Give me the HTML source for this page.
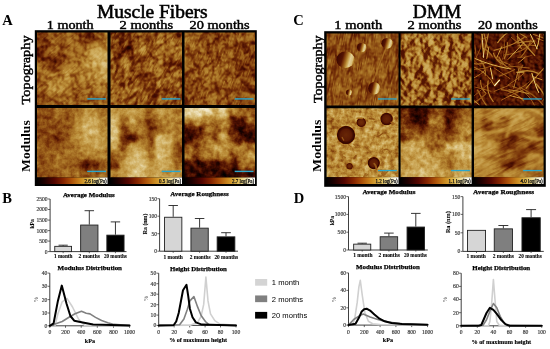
<!DOCTYPE html>
<html><head><meta charset="utf-8"><style>
html,body{margin:0;padding:0;background:#fff;width:550px;height:349px;overflow:hidden}
svg{display:block}
</style></head><body>
<svg xmlns="http://www.w3.org/2000/svg" width="550" height="349" viewBox="0 0 550 349">
<text x="2.3" y="24.6" text-anchor="start" font-family="Liberation Serif, serif" font-weight="bold" font-size="14.5" fill="#000"  >A</text>
<text x="97" y="18.4" text-anchor="start" font-family="Liberation Serif, serif"  font-size="17.8" fill="#000" textLength="110.6" lengthAdjust="spacingAndGlyphs" stroke="#000" stroke-width="0.55">Muscle Fibers</text>
<text x="46.8" y="28.5" text-anchor="start" font-family="Liberation Serif, serif"  font-size="11.6" fill="#000" textLength="46.8" lengthAdjust="spacingAndGlyphs" stroke="#000" stroke-width="0.42">1 month</text>
<text x="119.5" y="28.5" text-anchor="start" font-family="Liberation Serif, serif"  font-size="11.6" fill="#000" textLength="53.7" lengthAdjust="spacingAndGlyphs" stroke="#000" stroke-width="0.42">2 months</text>
<text x="189.6" y="28.5" text-anchor="start" font-family="Liberation Serif, serif"  font-size="11.6" fill="#000" textLength="60" lengthAdjust="spacingAndGlyphs" stroke="#000" stroke-width="0.42">20 months</text>
<text transform="translate(29.9,104.4) rotate(-90)" text-anchor="start" font-family="Liberation Serif, serif"  font-size="13.2" fill="#000" textLength="69" lengthAdjust="spacingAndGlyphs" stroke="#000" stroke-width="0.45">Topography</text>
<text transform="translate(30.2,171.9) rotate(-90)" text-anchor="start" font-family="Liberation Serif, serif" font-weight="bold" font-size="13" fill="#000" textLength="51.7" lengthAdjust="spacingAndGlyphs" >Modulus</text>
<text x="293.3" y="25" text-anchor="start" font-family="Liberation Serif, serif" font-weight="bold" font-size="14.5" fill="#000"  >C</text>
<text x="412.7" y="18.4" text-anchor="start" font-family="Liberation Serif, serif"  font-size="17.8" fill="#000" textLength="48.6" lengthAdjust="spacingAndGlyphs" stroke="#000" stroke-width="0.55">DMM</text>
<text x="334.3" y="28.5" text-anchor="start" font-family="Liberation Serif, serif"  font-size="11.6" fill="#000" textLength="48" lengthAdjust="spacingAndGlyphs" stroke="#000" stroke-width="0.42">1 month</text>
<text x="407.5" y="28.5" text-anchor="start" font-family="Liberation Serif, serif"  font-size="11.6" fill="#000" textLength="53.9" lengthAdjust="spacingAndGlyphs" stroke="#000" stroke-width="0.42">2 months</text>
<text x="478" y="28.5" text-anchor="start" font-family="Liberation Serif, serif"  font-size="11.6" fill="#000" textLength="59.7" lengthAdjust="spacingAndGlyphs" stroke="#000" stroke-width="0.42">20 months</text>
<text transform="translate(321.5,103) rotate(-90)" text-anchor="start" font-family="Liberation Serif, serif"  font-size="13.2" fill="#000" textLength="67.5" lengthAdjust="spacingAndGlyphs" stroke="#000" stroke-width="0.45">Topography</text>
<text transform="translate(320.6,171.9) rotate(-90)" text-anchor="start" font-family="Liberation Serif, serif" font-weight="bold" font-size="13" fill="#000" textLength="52.3" lengthAdjust="spacingAndGlyphs" >Modulus</text>
<text x="2.3" y="202.8" text-anchor="start" font-family="Liberation Serif, serif" font-weight="bold" font-size="14.5" fill="#000"  >B</text>
<text x="293.8" y="202.8" text-anchor="start" font-family="Liberation Serif, serif" font-weight="bold" font-size="14.5" fill="#000"  >D</text>
<rect x="34.8" y="30.2" width="222" height="155.8" fill="#000"/>
<rect x="324.2" y="31.2" width="221.6" height="155.6" fill="#000"/>
<g clip-path="url(#clip_a00)"><g filter="url(#map_a00)"><rect x="36" y="31.5" width="72.5" height="74.5" fill="#808080"/><g filter="url(#blur)"><rect x="17.0" y="12.5" width="32.2" height="32.6" fill="#353535"/><rect x="48.8" y="12.5" width="12.2" height="32.6" fill="#717171"/><rect x="60.5" y="12.5" width="12.2" height="32.6" fill="#7e7e7e"/><rect x="72.2" y="12.5" width="12.2" height="32.6" fill="#6e6e6e"/><rect x="84.0" y="12.5" width="12.2" height="32.6" fill="#191919"/><rect x="95.8" y="12.5" width="32.2" height="32.6" fill="#9a9a9a"/><rect x="17.0" y="44.6" width="32.2" height="12.6" fill="#2a2a2a"/><rect x="48.8" y="44.6" width="12.2" height="12.6" fill="#868686"/><rect x="60.5" y="44.6" width="12.2" height="12.6" fill="#5a5a5a"/><rect x="72.2" y="44.6" width="12.2" height="12.6" fill="#717171"/><rect x="84.0" y="44.6" width="12.2" height="12.6" fill="#acacac"/><rect x="95.8" y="44.6" width="32.2" height="12.6" fill="#c9c9c9"/><rect x="17.0" y="56.7" width="32.2" height="12.6" fill="#717171"/><rect x="48.8" y="56.7" width="12.2" height="12.6" fill="#020202"/><rect x="60.5" y="56.7" width="12.2" height="12.6" fill="#717171"/><rect x="72.2" y="56.7" width="12.2" height="12.6" fill="#9a9a9a"/><rect x="84.0" y="56.7" width="12.2" height="12.6" fill="#dcdcdc"/><rect x="95.8" y="56.7" width="32.2" height="12.6" fill="#efefef"/><rect x="17.0" y="68.8" width="32.2" height="12.6" fill="#868686"/><rect x="48.8" y="68.8" width="12.2" height="12.6" fill="#9a9a9a"/><rect x="60.5" y="68.8" width="12.2" height="12.6" fill="#bcbcbc"/><rect x="72.2" y="68.8" width="12.2" height="12.6" fill="#868686"/><rect x="84.0" y="68.8" width="12.2" height="12.6" fill="#acacac"/><rect x="95.8" y="68.8" width="32.2" height="12.6" fill="#dcdcdc"/><rect x="17.0" y="80.8" width="32.2" height="12.6" fill="#717171"/><rect x="48.8" y="80.8" width="12.2" height="12.6" fill="#c9c9c9"/><rect x="60.5" y="80.8" width="12.2" height="12.6" fill="#9a9a9a"/><rect x="72.2" y="80.8" width="12.2" height="12.6" fill="#717171"/><rect x="84.0" y="80.8" width="12.2" height="12.6" fill="#868686"/><rect x="95.8" y="80.8" width="32.2" height="12.6" fill="#9a9a9a"/><rect x="17.0" y="92.9" width="32.2" height="32.6" fill="#5e5e5e"/><rect x="48.8" y="92.9" width="12.2" height="32.6" fill="#717171"/><rect x="60.5" y="92.9" width="12.2" height="32.6" fill="#868686"/><rect x="72.2" y="92.9" width="12.2" height="32.6" fill="#5e5e5e"/><rect x="84.0" y="92.9" width="12.2" height="32.6" fill="#717171"/><rect x="95.8" y="92.9" width="32.2" height="32.6" fill="#868686"/></g><g transform="rotate(-40 72.25 68.75)"><rect x="17.25" y="13.75" width="110" height="110" filter="url(#rel_a00)" opacity="0.5"/></g></g></g>
<g clip-path="url(#clip_a01)"><g filter="url(#map_a01)"><rect x="109.5" y="31.5" width="73.5" height="74.5" fill="#808080"/><g filter="url(#blur)"><rect x="90.5" y="12.5" width="32.4" height="32.6" fill="#838383"/><rect x="122.4" y="12.5" width="12.4" height="32.6" fill="#353535"/><rect x="134.3" y="12.5" width="12.4" height="32.6" fill="#a4a4a4"/><rect x="146.2" y="12.5" width="12.4" height="32.6" fill="#989898"/><rect x="158.2" y="12.5" width="12.4" height="32.6" fill="#b6b6b6"/><rect x="170.1" y="12.5" width="32.4" height="32.6" fill="#7c7c7c"/><rect x="90.5" y="44.6" width="32.4" height="12.6" fill="#666666"/><rect x="122.4" y="44.6" width="12.4" height="12.6" fill="#363636"/><rect x="134.3" y="44.6" width="12.4" height="12.6" fill="#a4a4a4"/><rect x="146.2" y="44.6" width="12.4" height="12.6" fill="#838383"/><rect x="158.2" y="44.6" width="12.4" height="12.6" fill="#989898"/><rect x="170.1" y="44.6" width="32.4" height="12.6" fill="#a4a4a4"/><rect x="90.5" y="56.7" width="32.4" height="12.6" fill="#989898"/><rect x="122.4" y="56.7" width="12.4" height="12.6" fill="#b6b6b6"/><rect x="134.3" y="56.7" width="12.4" height="12.6" fill="#666666"/><rect x="146.2" y="56.7" width="12.4" height="12.6" fill="#c3c3c3"/><rect x="158.2" y="56.7" width="12.4" height="12.6" fill="#989898"/><rect x="170.1" y="56.7" width="32.4" height="12.6" fill="#838383"/><rect x="90.5" y="68.8" width="32.4" height="12.6" fill="#838383"/><rect x="122.4" y="68.8" width="12.4" height="12.6" fill="#989898"/><rect x="134.3" y="68.8" width="12.4" height="12.6" fill="#666666"/><rect x="146.2" y="68.8" width="12.4" height="12.6" fill="#a4a4a4"/><rect x="158.2" y="68.8" width="12.4" height="12.6" fill="#989898"/><rect x="170.1" y="68.8" width="32.4" height="12.6" fill="#a4a4a4"/><rect x="90.5" y="80.8" width="32.4" height="12.6" fill="#a4a4a4"/><rect x="122.4" y="80.8" width="12.4" height="12.6" fill="#838383"/><rect x="134.3" y="80.8" width="12.4" height="12.6" fill="#a4a4a4"/><rect x="146.2" y="80.8" width="12.4" height="12.6" fill="#838383"/><rect x="158.2" y="80.8" width="12.4" height="12.6" fill="#989898"/><rect x="170.1" y="80.8" width="32.4" height="12.6" fill="#838383"/><rect x="90.5" y="92.9" width="32.4" height="32.6" fill="#989898"/><rect x="122.4" y="92.9" width="12.4" height="32.6" fill="#a4a4a4"/><rect x="134.3" y="92.9" width="12.4" height="32.6" fill="#838383"/><rect x="146.2" y="92.9" width="12.4" height="32.6" fill="#666666"/><rect x="158.2" y="92.9" width="12.4" height="32.6" fill="#989898"/><rect x="170.1" y="92.9" width="32.4" height="32.6" fill="#7c7c7c"/></g><g transform="rotate(-60 146.25 68.75)"><rect x="91.25" y="13.75" width="110" height="110" filter="url(#rel_a01)" opacity="0.6"/></g></g></g>
<g clip-path="url(#clip_a02)"><g filter="url(#map_a02)"><rect x="183.5" y="31.5" width="72.5" height="74.5" fill="#808080"/><g filter="url(#blur)"><rect x="164.5" y="12.5" width="32.2" height="32.6" fill="#7d7d7d"/><rect x="196.2" y="12.5" width="12.2" height="32.6" fill="#616161"/><rect x="208.0" y="12.5" width="12.2" height="32.6" fill="#484848"/><rect x="219.8" y="12.5" width="12.2" height="32.6" fill="#616161"/><rect x="231.5" y="12.5" width="12.2" height="32.6" fill="#6c6c6c"/><rect x="243.2" y="12.5" width="32.2" height="32.6" fill="#616161"/><rect x="164.5" y="44.6" width="32.2" height="12.6" fill="#929292"/><rect x="196.2" y="44.6" width="12.2" height="12.6" fill="#6c6c6c"/><rect x="208.0" y="44.6" width="12.2" height="12.6" fill="#616161"/><rect x="219.8" y="44.6" width="12.2" height="12.6" fill="#6c6c6c"/><rect x="231.5" y="44.6" width="12.2" height="12.6" fill="#616161"/><rect x="243.2" y="44.6" width="32.2" height="12.6" fill="#484848"/><rect x="164.5" y="56.7" width="32.2" height="12.6" fill="#6c6c6c"/><rect x="196.2" y="56.7" width="12.2" height="12.6" fill="#616161"/><rect x="208.0" y="56.7" width="12.2" height="12.6" fill="#6c6c6c"/><rect x="219.8" y="56.7" width="12.2" height="12.6" fill="#7c7c7c"/><rect x="231.5" y="56.7" width="12.2" height="12.6" fill="#484848"/><rect x="243.2" y="56.7" width="32.2" height="12.6" fill="#353535"/><rect x="164.5" y="68.8" width="32.2" height="12.6" fill="#4f4f4f"/><rect x="196.2" y="68.8" width="12.2" height="12.6" fill="#7c7c7c"/><rect x="208.0" y="68.8" width="12.2" height="12.6" fill="#878787"/><rect x="219.8" y="68.8" width="12.2" height="12.6" fill="#6c6c6c"/><rect x="231.5" y="68.8" width="12.2" height="12.6" fill="#616161"/><rect x="243.2" y="68.8" width="32.2" height="12.6" fill="#484848"/><rect x="164.5" y="80.8" width="32.2" height="12.6" fill="#616161"/><rect x="196.2" y="80.8" width="12.2" height="12.6" fill="#6c6c6c"/><rect x="208.0" y="80.8" width="12.2" height="12.6" fill="#6c6c6c"/><rect x="219.8" y="80.8" width="12.2" height="12.6" fill="#616161"/><rect x="231.5" y="80.8" width="12.2" height="12.6" fill="#616161"/><rect x="243.2" y="80.8" width="32.2" height="12.6" fill="#4f4f4f"/><rect x="164.5" y="92.9" width="32.2" height="32.6" fill="#4f4f4f"/><rect x="196.2" y="92.9" width="12.2" height="32.6" fill="#616161"/><rect x="208.0" y="92.9" width="12.2" height="32.6" fill="#6c6c6c"/><rect x="219.8" y="92.9" width="12.2" height="32.6" fill="#616161"/><rect x="231.5" y="92.9" width="12.2" height="32.6" fill="#4f4f4f"/><rect x="243.2" y="92.9" width="32.2" height="32.6" fill="#484848"/></g><g transform="rotate(-70 219.75 68.75)"><rect x="164.75" y="13.75" width="110" height="110" filter="url(#rel_a02)" opacity="0.55"/></g></g></g>
<g clip-path="url(#clip_a10)"><g filter="url(#map_a10)"><rect x="36" y="107" width="72.5" height="71.5" fill="#808080"/><g filter="url(#blur2)"><rect x="17.0" y="88.0" width="29.3" height="29.2" fill="#5b5b5b"/><rect x="45.8" y="88.0" width="9.3" height="29.2" fill="#646464"/><rect x="54.6" y="88.0" width="9.3" height="29.2" fill="#7c7c7c"/><rect x="63.4" y="88.0" width="9.3" height="29.2" fill="#6e6e6e"/><rect x="72.2" y="88.0" width="9.3" height="29.2" fill="#7c7c7c"/><rect x="81.1" y="88.0" width="9.3" height="29.2" fill="#9e9e9e"/><rect x="89.9" y="88.0" width="9.3" height="29.2" fill="#9e9e9e"/><rect x="98.7" y="88.0" width="29.3" height="29.2" fill="#7c7c7c"/><rect x="17.0" y="116.7" width="29.3" height="9.2" fill="#646464"/><rect x="45.8" y="116.7" width="9.3" height="9.2" fill="#5b5b5b"/><rect x="54.6" y="116.7" width="9.3" height="9.2" fill="#646464"/><rect x="63.4" y="116.7" width="9.3" height="9.2" fill="#646464"/><rect x="72.2" y="116.7" width="9.3" height="9.2" fill="#8b8b8b"/><rect x="81.1" y="116.7" width="9.3" height="9.2" fill="#c4c4c4"/><rect x="89.9" y="116.7" width="9.3" height="9.2" fill="#c4c4c4"/><rect x="98.7" y="116.7" width="29.3" height="9.2" fill="#8b8b8b"/><rect x="17.0" y="125.4" width="29.3" height="9.2" fill="#4d4d4d"/><rect x="45.8" y="125.4" width="9.3" height="9.2" fill="#646464"/><rect x="54.6" y="125.4" width="9.3" height="9.2" fill="#5b5b5b"/><rect x="63.4" y="125.4" width="9.3" height="9.2" fill="#6e6e6e"/><rect x="72.2" y="125.4" width="9.3" height="9.2" fill="#949494"/><rect x="81.1" y="125.4" width="9.3" height="9.2" fill="#cdcdcd"/><rect x="89.9" y="125.4" width="9.3" height="9.2" fill="#c4c4c4"/><rect x="98.7" y="125.4" width="29.3" height="9.2" fill="#9e9e9e"/><rect x="17.0" y="134.1" width="29.3" height="9.2" fill="#646464"/><rect x="45.8" y="134.1" width="9.3" height="9.2" fill="#4d4d4d"/><rect x="54.6" y="134.1" width="9.3" height="9.2" fill="#353535"/><rect x="63.4" y="134.1" width="9.3" height="9.2" fill="#646464"/><rect x="72.2" y="134.1" width="9.3" height="9.2" fill="#949494"/><rect x="81.1" y="134.1" width="9.3" height="9.2" fill="#bababa"/><rect x="89.9" y="134.1" width="9.3" height="9.2" fill="#bababa"/><rect x="98.7" y="134.1" width="29.3" height="9.2" fill="#acacac"/><rect x="17.0" y="142.8" width="29.3" height="9.2" fill="#6e6e6e"/><rect x="45.8" y="142.8" width="9.3" height="9.2" fill="#646464"/><rect x="54.6" y="142.8" width="9.3" height="9.2" fill="#6e6e6e"/><rect x="63.4" y="142.8" width="9.3" height="9.2" fill="#7c7c7c"/><rect x="72.2" y="142.8" width="9.3" height="9.2" fill="#8b8b8b"/><rect x="81.1" y="142.8" width="9.3" height="9.2" fill="#9e9e9e"/><rect x="89.9" y="142.8" width="9.3" height="9.2" fill="#acacac"/><rect x="98.7" y="142.8" width="29.3" height="9.2" fill="#9e9e9e"/><rect x="17.0" y="151.4" width="29.3" height="9.2" fill="#646464"/><rect x="45.8" y="151.4" width="9.3" height="9.2" fill="#6e6e6e"/><rect x="54.6" y="151.4" width="9.3" height="9.2" fill="#7c7c7c"/><rect x="63.4" y="151.4" width="9.3" height="9.2" fill="#7c7c7c"/><rect x="72.2" y="151.4" width="9.3" height="9.2" fill="#7c7c7c"/><rect x="81.1" y="151.4" width="9.3" height="9.2" fill="#8b8b8b"/><rect x="89.9" y="151.4" width="9.3" height="9.2" fill="#949494"/><rect x="98.7" y="151.4" width="29.3" height="9.2" fill="#949494"/><rect x="17.0" y="160.1" width="29.3" height="9.2" fill="#646464"/><rect x="45.8" y="160.1" width="9.3" height="9.2" fill="#6e6e6e"/><rect x="54.6" y="160.1" width="9.3" height="9.2" fill="#7c7c7c"/><rect x="63.4" y="160.1" width="9.3" height="9.2" fill="#6e6e6e"/><rect x="72.2" y="160.1" width="9.3" height="9.2" fill="#5b5b5b"/><rect x="81.1" y="160.1" width="9.3" height="9.2" fill="#1d1d1d"/><rect x="89.9" y="160.1" width="9.3" height="9.2" fill="#2b2b2b"/><rect x="98.7" y="160.1" width="29.3" height="9.2" fill="#646464"/><rect x="17.0" y="168.8" width="29.3" height="29.2" fill="#5b5b5b"/><rect x="45.8" y="168.8" width="9.3" height="29.2" fill="#646464"/><rect x="54.6" y="168.8" width="9.3" height="29.2" fill="#6e6e6e"/><rect x="63.4" y="168.8" width="9.3" height="29.2" fill="#7c7c7c"/><rect x="72.2" y="168.8" width="9.3" height="29.2" fill="#7c7c7c"/><rect x="81.1" y="168.8" width="9.3" height="29.2" fill="#646464"/><rect x="89.9" y="168.8" width="9.3" height="29.2" fill="#6e6e6e"/><rect x="98.7" y="168.8" width="29.3" height="29.2" fill="#7c7c7c"/></g><g transform="rotate(0 72.25 142.75)"><rect x="17.25" y="87.75" width="110" height="110" filter="url(#rel_a10)" opacity="0.25"/></g></g></g>
<g clip-path="url(#clip_a11)"><g filter="url(#map_a11)"><rect x="109.5" y="107" width="73.5" height="71.5" fill="#808080"/><g filter="url(#blur2)"><rect x="90.5" y="88.0" width="29.4" height="29.2" fill="#a9a9a9"/><rect x="119.4" y="88.0" width="9.4" height="29.2" fill="#a0a0a0"/><rect x="128.4" y="88.0" width="9.4" height="29.2" fill="#a9a9a9"/><rect x="137.3" y="88.0" width="9.4" height="29.2" fill="#a0a0a0"/><rect x="146.2" y="88.0" width="9.4" height="29.2" fill="#707070"/><rect x="155.2" y="88.0" width="9.4" height="29.2" fill="#a9a9a9"/><rect x="164.1" y="88.0" width="9.4" height="29.2" fill="#a0a0a0"/><rect x="173.1" y="88.0" width="29.4" height="29.2" fill="#888888"/><rect x="90.5" y="116.7" width="29.4" height="9.2" fill="#d0d0d0"/><rect x="119.4" y="116.7" width="9.4" height="9.2" fill="#676767"/><rect x="128.4" y="116.7" width="9.4" height="9.2" fill="#b8b8b8"/><rect x="137.3" y="116.7" width="9.4" height="9.2" fill="#707070"/><rect x="146.2" y="116.7" width="9.4" height="9.2" fill="#414141"/><rect x="155.2" y="116.7" width="9.4" height="9.2" fill="#888888"/><rect x="164.1" y="116.7" width="9.4" height="9.2" fill="#969696"/><rect x="173.1" y="116.7" width="29.4" height="9.2" fill="#888888"/><rect x="90.5" y="125.4" width="29.4" height="9.2" fill="#d9d9d9"/><rect x="119.4" y="125.4" width="9.4" height="9.2" fill="#4a4a4a"/><rect x="128.4" y="125.4" width="9.4" height="9.2" fill="#888888"/><rect x="137.3" y="125.4" width="9.4" height="9.2" fill="#969696"/><rect x="146.2" y="125.4" width="9.4" height="9.2" fill="#373737"/><rect x="155.2" y="125.4" width="9.4" height="9.2" fill="#707070"/><rect x="164.1" y="125.4" width="9.4" height="9.2" fill="#888888"/><rect x="173.1" y="125.4" width="29.4" height="9.2" fill="#888888"/><rect x="90.5" y="134.1" width="29.4" height="9.2" fill="#d9d9d9"/><rect x="119.4" y="134.1" width="9.4" height="9.2" fill="#414141"/><rect x="128.4" y="134.1" width="9.4" height="9.2" fill="#000000"/><rect x="137.3" y="134.1" width="9.4" height="9.2" fill="#888888"/><rect x="146.2" y="134.1" width="9.4" height="9.2" fill="#595959"/><rect x="155.2" y="134.1" width="9.4" height="9.2" fill="#d9d9d9"/><rect x="164.1" y="134.1" width="9.4" height="9.2" fill="#b8b8b8"/><rect x="173.1" y="134.1" width="29.4" height="9.2" fill="#888888"/><rect x="90.5" y="142.8" width="29.4" height="9.2" fill="#b8b8b8"/><rect x="119.4" y="142.8" width="9.4" height="9.2" fill="#4a4a4a"/><rect x="128.4" y="142.8" width="9.4" height="9.2" fill="#c6c6c6"/><rect x="137.3" y="142.8" width="9.4" height="9.2" fill="#a0a0a0"/><rect x="146.2" y="142.8" width="9.4" height="9.2" fill="#676767"/><rect x="155.2" y="142.8" width="9.4" height="9.2" fill="#d0d0d0"/><rect x="164.1" y="142.8" width="9.4" height="9.2" fill="#c6c6c6"/><rect x="173.1" y="142.8" width="29.4" height="9.2" fill="#4a4a4a"/><rect x="90.5" y="151.4" width="29.4" height="9.2" fill="#707070"/><rect x="119.4" y="151.4" width="9.4" height="9.2" fill="#888888"/><rect x="128.4" y="151.4" width="9.4" height="9.2" fill="#d0d0d0"/><rect x="137.3" y="151.4" width="9.4" height="9.2" fill="#d9d9d9"/><rect x="146.2" y="151.4" width="9.4" height="9.2" fill="#7a7a7a"/><rect x="155.2" y="151.4" width="9.4" height="9.2" fill="#d9d9d9"/><rect x="164.1" y="151.4" width="9.4" height="9.2" fill="#bdbdbd"/><rect x="173.1" y="151.4" width="29.4" height="9.2" fill="#595959"/><rect x="90.5" y="160.1" width="29.4" height="9.2" fill="#414141"/><rect x="119.4" y="160.1" width="9.4" height="9.2" fill="#a9a9a9"/><rect x="128.4" y="160.1" width="9.4" height="9.2" fill="#d0d0d0"/><rect x="137.3" y="160.1" width="9.4" height="9.2" fill="#d9d9d9"/><rect x="146.2" y="160.1" width="9.4" height="9.2" fill="#a0a0a0"/><rect x="155.2" y="160.1" width="9.4" height="9.2" fill="#c6c6c6"/><rect x="164.1" y="160.1" width="9.4" height="9.2" fill="#a9a9a9"/><rect x="173.1" y="160.1" width="29.4" height="9.2" fill="#7a7a7a"/><rect x="90.5" y="168.8" width="29.4" height="29.2" fill="#888888"/><rect x="119.4" y="168.8" width="9.4" height="29.2" fill="#a9a9a9"/><rect x="128.4" y="168.8" width="9.4" height="29.2" fill="#d9d9d9"/><rect x="137.3" y="168.8" width="9.4" height="29.2" fill="#d9d9d9"/><rect x="146.2" y="168.8" width="9.4" height="29.2" fill="#a9a9a9"/><rect x="155.2" y="168.8" width="9.4" height="29.2" fill="#b8b8b8"/><rect x="164.1" y="168.8" width="9.4" height="29.2" fill="#a0a0a0"/><rect x="173.1" y="168.8" width="29.4" height="29.2" fill="#a0a0a0"/></g><g transform="rotate(0 146.25 142.75)"><rect x="91.25" y="87.75" width="110" height="110" filter="url(#rel_a11)" opacity="0.25"/></g></g></g>
<g clip-path="url(#clip_a12)"><g filter="url(#map_a12)"><rect x="183.5" y="107" width="72.5" height="71.5" fill="#808080"/><g filter="url(#blur2)"><rect x="164.5" y="88.0" width="29.3" height="29.2" fill="#f4f4f4"/><rect x="193.3" y="88.0" width="9.3" height="29.2" fill="#fefefe"/><rect x="202.1" y="88.0" width="9.3" height="29.2" fill="#f4f4f4"/><rect x="210.9" y="88.0" width="9.3" height="29.2" fill="#dbdbdb"/><rect x="219.8" y="88.0" width="9.3" height="29.2" fill="#cccccc"/><rect x="228.6" y="88.0" width="9.3" height="29.2" fill="#919191"/><rect x="237.4" y="88.0" width="9.3" height="29.2" fill="#797979"/><rect x="246.2" y="88.0" width="29.3" height="29.2" fill="#606060"/><rect x="164.5" y="116.7" width="29.3" height="9.2" fill="#9b9b9b"/><rect x="193.3" y="116.7" width="9.3" height="9.2" fill="#b9b9b9"/><rect x="202.1" y="116.7" width="9.3" height="9.2" fill="#919191"/><rect x="210.9" y="116.7" width="9.3" height="9.2" fill="#797979"/><rect x="219.8" y="116.7" width="9.3" height="9.2" fill="#afafaf"/><rect x="228.6" y="116.7" width="9.3" height="9.2" fill="#080808"/><rect x="237.4" y="116.7" width="9.3" height="9.2" fill="#161616"/><rect x="246.2" y="116.7" width="29.3" height="9.2" fill="#797979"/><rect x="164.5" y="125.4" width="29.3" height="9.2" fill="#000000"/><rect x="193.3" y="125.4" width="9.3" height="9.2" fill="#161616"/><rect x="202.1" y="125.4" width="9.3" height="9.2" fill="#606060"/><rect x="210.9" y="125.4" width="9.3" height="9.2" fill="#606060"/><rect x="219.8" y="125.4" width="9.3" height="9.2" fill="#9b9b9b"/><rect x="228.6" y="125.4" width="9.3" height="9.2" fill="#252525"/><rect x="237.4" y="125.4" width="9.3" height="9.2" fill="#000000"/><rect x="246.2" y="125.4" width="29.3" height="9.2" fill="#080808"/><rect x="164.5" y="134.1" width="29.3" height="9.2" fill="#000000"/><rect x="193.3" y="134.1" width="9.3" height="9.2" fill="#484848"/><rect x="202.1" y="134.1" width="9.3" height="9.2" fill="#797979"/><rect x="210.9" y="134.1" width="9.3" height="9.2" fill="#606060"/><rect x="219.8" y="134.1" width="9.3" height="9.2" fill="#aaaaaa"/><rect x="228.6" y="134.1" width="9.3" height="9.2" fill="#484848"/><rect x="237.4" y="134.1" width="9.3" height="9.2" fill="#000000"/><rect x="246.2" y="134.1" width="29.3" height="9.2" fill="#000000"/><rect x="164.5" y="142.8" width="29.3" height="9.2" fill="#606060"/><rect x="193.3" y="142.8" width="9.3" height="9.2" fill="#484848"/><rect x="202.1" y="142.8" width="9.3" height="9.2" fill="#919191"/><rect x="210.9" y="142.8" width="9.3" height="9.2" fill="#aaaaaa"/><rect x="219.8" y="142.8" width="9.3" height="9.2" fill="#b9b9b9"/><rect x="228.6" y="142.8" width="9.3" height="9.2" fill="#919191"/><rect x="237.4" y="142.8" width="9.3" height="9.2" fill="#797979"/><rect x="246.2" y="142.8" width="29.3" height="9.2" fill="#919191"/><rect x="164.5" y="151.4" width="29.3" height="9.2" fill="#797979"/><rect x="193.3" y="151.4" width="9.3" height="9.2" fill="#606060"/><rect x="202.1" y="151.4" width="9.3" height="9.2" fill="#9b9b9b"/><rect x="210.9" y="151.4" width="9.3" height="9.2" fill="#797979"/><rect x="219.8" y="151.4" width="9.3" height="9.2" fill="#aaaaaa"/><rect x="228.6" y="151.4" width="9.3" height="9.2" fill="#484848"/><rect x="237.4" y="151.4" width="9.3" height="9.2" fill="#919191"/><rect x="246.2" y="151.4" width="29.3" height="9.2" fill="#9b9b9b"/><rect x="164.5" y="160.1" width="29.3" height="9.2" fill="#161616"/><rect x="193.3" y="160.1" width="9.3" height="9.2" fill="#000000"/><rect x="202.1" y="160.1" width="9.3" height="9.2" fill="#161616"/><rect x="210.9" y="160.1" width="9.3" height="9.2" fill="#000000"/><rect x="219.8" y="160.1" width="9.3" height="9.2" fill="#2f2f2f"/><rect x="228.6" y="160.1" width="9.3" height="9.2" fill="#161616"/><rect x="237.4" y="160.1" width="9.3" height="9.2" fill="#797979"/><rect x="246.2" y="160.1" width="29.3" height="9.2" fill="#878787"/><rect x="164.5" y="168.8" width="29.3" height="29.2" fill="#000000"/><rect x="193.3" y="168.8" width="9.3" height="29.2" fill="#000000"/><rect x="202.1" y="168.8" width="9.3" height="29.2" fill="#000000"/><rect x="210.9" y="168.8" width="9.3" height="29.2" fill="#000000"/><rect x="219.8" y="168.8" width="9.3" height="29.2" fill="#000000"/><rect x="228.6" y="168.8" width="9.3" height="29.2" fill="#000000"/><rect x="237.4" y="168.8" width="9.3" height="29.2" fill="#000000"/><rect x="246.2" y="168.8" width="29.3" height="29.2" fill="#000000"/></g><g transform="rotate(0 219.75 142.75)"><rect x="164.75" y="87.75" width="110" height="110" filter="url(#rel_a12)" opacity="0.3"/></g></g></g>
<g clip-path="url(#clip_c00)"><g filter="url(#map_c00)"><rect x="325.6" y="32.6" width="73.89999999999998" height="74.0" fill="#808080"/><g filter="url(#blur)"><rect x="306.6" y="13.6" width="32.5" height="32.5" fill="#696969"/><rect x="338.6" y="13.6" width="12.5" height="32.5" fill="#747474"/><rect x="350.6" y="13.6" width="12.5" height="32.5" fill="#505050"/><rect x="362.6" y="13.6" width="12.5" height="32.5" fill="#696969"/><rect x="374.5" y="13.6" width="12.5" height="32.5" fill="#747474"/><rect x="386.5" y="13.6" width="32.5" height="32.5" fill="#696969"/><rect x="306.6" y="45.6" width="32.5" height="12.5" fill="#505050"/><rect x="338.6" y="45.6" width="12.5" height="12.5" fill="#747474"/><rect x="350.6" y="45.6" width="12.5" height="12.5" fill="#696969"/><rect x="362.6" y="45.6" width="12.5" height="12.5" fill="#747474"/><rect x="374.5" y="45.6" width="12.5" height="12.5" fill="#696969"/><rect x="386.5" y="45.6" width="32.5" height="12.5" fill="#505050"/><rect x="306.6" y="57.6" width="32.5" height="12.5" fill="#696969"/><rect x="338.6" y="57.6" width="12.5" height="12.5" fill="#747474"/><rect x="350.6" y="57.6" width="12.5" height="12.5" fill="#696969"/><rect x="362.6" y="57.6" width="12.5" height="12.5" fill="#696969"/><rect x="374.5" y="57.6" width="12.5" height="12.5" fill="#747474"/><rect x="386.5" y="57.6" width="32.5" height="12.5" fill="#696969"/><rect x="306.6" y="69.6" width="32.5" height="12.5" fill="#747474"/><rect x="338.6" y="69.6" width="12.5" height="12.5" fill="#696969"/><rect x="350.6" y="69.6" width="12.5" height="12.5" fill="#747474"/><rect x="362.6" y="69.6" width="12.5" height="12.5" fill="#696969"/><rect x="374.5" y="69.6" width="12.5" height="12.5" fill="#747474"/><rect x="386.5" y="69.6" width="32.5" height="12.5" fill="#696969"/><rect x="306.6" y="81.6" width="32.5" height="12.5" fill="#696969"/><rect x="338.6" y="81.6" width="12.5" height="12.5" fill="#747474"/><rect x="350.6" y="81.6" width="12.5" height="12.5" fill="#696969"/><rect x="362.6" y="81.6" width="12.5" height="12.5" fill="#505050"/><rect x="374.5" y="81.6" width="12.5" height="12.5" fill="#696969"/><rect x="386.5" y="81.6" width="32.5" height="12.5" fill="#747474"/><rect x="306.6" y="93.6" width="32.5" height="32.5" fill="#747474"/><rect x="338.6" y="93.6" width="12.5" height="32.5" fill="#696969"/><rect x="350.6" y="93.6" width="12.5" height="32.5" fill="#747474"/><rect x="362.6" y="93.6" width="12.5" height="32.5" fill="#696969"/><rect x="374.5" y="93.6" width="12.5" height="32.5" fill="#696969"/><rect x="386.5" y="93.6" width="32.5" height="32.5" fill="#747474"/></g><g transform="rotate(-80 362.55 69.6)"><rect x="307.55" y="14.599999999999994" width="110" height="110" filter="url(#rel_c00)" opacity="0.55"/></g><path d="M387,46 Q380,62 373,82" fill="none" stroke="#949494" stroke-width="1.4" stroke-linecap="round" opacity="0.5"/><ellipse cx="345.5" cy="59.8" rx="9.2" ry="8.2" fill="url(#sg0)" filter="url(#fblur)"/><ellipse cx="361.8" cy="47.6" rx="4.8" ry="4.6" fill="url(#sg1)" filter="url(#fblur)"/><ellipse cx="387.1" cy="43.3" rx="5.8" ry="5.4" fill="url(#sg2)" filter="url(#fblur)"/><ellipse cx="374.2" cy="88.3" rx="6.0" ry="6.2" fill="url(#sg3)" filter="url(#fblur)"/><ellipse cx="349" cy="92.6" rx="3" ry="3" fill="url(#sg4)" filter="url(#fblur)"/></g></g>
<g clip-path="url(#clip_c01)"><g filter="url(#map_c01)"><rect x="399.6" y="32.6" width="73.0" height="74.0" fill="#808080"/><g filter="url(#blur)"><rect x="380.6" y="13.6" width="32.3" height="32.5" fill="#b3b3b3"/><rect x="412.4" y="13.6" width="12.3" height="32.5" fill="#a0a0a0"/><rect x="424.3" y="13.6" width="12.3" height="32.5" fill="#b3b3b3"/><rect x="436.1" y="13.6" width="12.3" height="32.5" fill="#a0a0a0"/><rect x="447.9" y="13.6" width="12.3" height="32.5" fill="#8e8e8e"/><rect x="459.8" y="13.6" width="32.3" height="32.5" fill="#a0a0a0"/><rect x="380.6" y="45.6" width="32.3" height="12.5" fill="#8e8e8e"/><rect x="412.4" y="45.6" width="12.3" height="12.5" fill="#b3b3b3"/><rect x="424.3" y="45.6" width="12.3" height="12.5" fill="#a0a0a0"/><rect x="436.1" y="45.6" width="12.3" height="12.5" fill="#b3b3b3"/><rect x="447.9" y="45.6" width="12.3" height="12.5" fill="#a0a0a0"/><rect x="459.8" y="45.6" width="32.3" height="12.5" fill="#8e8e8e"/><rect x="380.6" y="57.6" width="32.3" height="12.5" fill="#a0a0a0"/><rect x="412.4" y="57.6" width="12.3" height="12.5" fill="#8e8e8e"/><rect x="424.3" y="57.6" width="12.3" height="12.5" fill="#b3b3b3"/><rect x="436.1" y="57.6" width="12.3" height="12.5" fill="#a0a0a0"/><rect x="447.9" y="57.6" width="12.3" height="12.5" fill="#b9b9b9"/><rect x="459.8" y="57.6" width="32.3" height="12.5" fill="#a0a0a0"/><rect x="380.6" y="69.6" width="32.3" height="12.5" fill="#8e8e8e"/><rect x="412.4" y="69.6" width="12.3" height="12.5" fill="#a0a0a0"/><rect x="424.3" y="69.6" width="12.3" height="12.5" fill="#a0a0a0"/><rect x="436.1" y="69.6" width="12.3" height="12.5" fill="#b9b9b9"/><rect x="447.9" y="69.6" width="12.3" height="12.5" fill="#a0a0a0"/><rect x="459.8" y="69.6" width="32.3" height="12.5" fill="#8e8e8e"/><rect x="380.6" y="81.6" width="32.3" height="12.5" fill="#a0a0a0"/><rect x="412.4" y="81.6" width="12.3" height="12.5" fill="#8e8e8e"/><rect x="424.3" y="81.6" width="12.3" height="12.5" fill="#a0a0a0"/><rect x="436.1" y="81.6" width="12.3" height="12.5" fill="#8e8e8e"/><rect x="447.9" y="81.6" width="12.3" height="12.5" fill="#a0a0a0"/><rect x="459.8" y="81.6" width="32.3" height="12.5" fill="#8e8e8e"/><rect x="380.6" y="93.6" width="32.3" height="32.5" fill="#8e8e8e"/><rect x="412.4" y="93.6" width="12.3" height="32.5" fill="#a0a0a0"/><rect x="424.3" y="93.6" width="12.3" height="32.5" fill="#8e8e8e"/><rect x="436.1" y="93.6" width="12.3" height="32.5" fill="#a0a0a0"/><rect x="447.9" y="93.6" width="12.3" height="32.5" fill="#8e8e8e"/><rect x="459.8" y="93.6" width="32.3" height="32.5" fill="#8e8e8e"/></g><g transform="rotate(-35 436.1 69.6)"><rect x="381.1" y="14.599999999999994" width="110" height="110" filter="url(#rel_c01)" opacity="0.6"/></g></g></g>
<g clip-path="url(#clip_c02)"><g filter="url(#map_c02)"><rect x="473" y="32.6" width="71.60000000000002" height="74.0" fill="#808080"/><g filter="url(#blur)"><rect x="454.0" y="13.6" width="32.1" height="32.5" fill="#1d1d1d"/><rect x="485.6" y="13.6" width="12.1" height="32.5" fill="#0d0d0d"/><rect x="497.2" y="13.6" width="12.1" height="32.5" fill="#1d1d1d"/><rect x="508.8" y="13.6" width="12.1" height="32.5" fill="#0d0d0d"/><rect x="520.4" y="13.6" width="12.1" height="32.5" fill="#1d1d1d"/><rect x="532.0" y="13.6" width="32.1" height="32.5" fill="#0d0d0d"/><rect x="454.0" y="45.6" width="32.1" height="12.5" fill="#0d0d0d"/><rect x="485.6" y="45.6" width="12.1" height="12.5" fill="#1d1d1d"/><rect x="497.2" y="45.6" width="12.1" height="12.5" fill="#0d0d0d"/><rect x="508.8" y="45.6" width="12.1" height="12.5" fill="#1d1d1d"/><rect x="520.4" y="45.6" width="12.1" height="12.5" fill="#0d0d0d"/><rect x="532.0" y="45.6" width="32.1" height="12.5" fill="#1d1d1d"/><rect x="454.0" y="57.6" width="32.1" height="12.5" fill="#1d1d1d"/><rect x="485.6" y="57.6" width="12.1" height="12.5" fill="#0d0d0d"/><rect x="497.2" y="57.6" width="12.1" height="12.5" fill="#1d1d1d"/><rect x="508.8" y="57.6" width="12.1" height="12.5" fill="#0d0d0d"/><rect x="520.4" y="57.6" width="12.1" height="12.5" fill="#1d1d1d"/><rect x="532.0" y="57.6" width="32.1" height="12.5" fill="#0d0d0d"/><rect x="454.0" y="69.6" width="32.1" height="12.5" fill="#0d0d0d"/><rect x="485.6" y="69.6" width="12.1" height="12.5" fill="#1d1d1d"/><rect x="497.2" y="69.6" width="12.1" height="12.5" fill="#0d0d0d"/><rect x="508.8" y="69.6" width="12.1" height="12.5" fill="#1d1d1d"/><rect x="520.4" y="69.6" width="12.1" height="12.5" fill="#0d0d0d"/><rect x="532.0" y="69.6" width="32.1" height="12.5" fill="#1d1d1d"/><rect x="454.0" y="81.6" width="32.1" height="12.5" fill="#1d1d1d"/><rect x="485.6" y="81.6" width="12.1" height="12.5" fill="#0d0d0d"/><rect x="497.2" y="81.6" width="12.1" height="12.5" fill="#1d1d1d"/><rect x="508.8" y="81.6" width="12.1" height="12.5" fill="#0d0d0d"/><rect x="520.4" y="81.6" width="12.1" height="12.5" fill="#1d1d1d"/><rect x="532.0" y="81.6" width="32.1" height="12.5" fill="#0d0d0d"/><rect x="454.0" y="93.6" width="32.1" height="32.5" fill="#0d0d0d"/><rect x="485.6" y="93.6" width="12.1" height="32.5" fill="#1d1d1d"/><rect x="497.2" y="93.6" width="12.1" height="32.5" fill="#0d0d0d"/><rect x="508.8" y="93.6" width="12.1" height="32.5" fill="#1d1d1d"/><rect x="520.4" y="93.6" width="12.1" height="32.5" fill="#0d0d0d"/><rect x="532.0" y="93.6" width="32.1" height="32.5" fill="#1d1d1d"/></g><g transform="rotate(-30 508.8 69.6)"><rect x="453.8" y="14.599999999999994" width="110" height="110" filter="url(#rel_c02)" opacity="0.4"/></g><g filter="url(#fblur2)"><path d="M513.4,26.5 Q518.6,33.5 526.3,37.4" fill="none" stroke="#878787" stroke-width="1.3353077406229072" stroke-linecap="round" opacity="1.0"/><path d="M472.6,59.5 Q476.8,62.9 480.9,66.3" fill="none" stroke="#6c6c6c" stroke-width="0.9193025904119891" stroke-linecap="round" opacity="1.0"/><path d="M522.8,65.1 Q518.4,71.8 518.5,80.0" fill="none" stroke="#6b6b6b" stroke-width="1.2834915510996847" stroke-linecap="round" opacity="1.0"/><path d="M531.3,55.6 Q524.6,57.7 517.6,57.5" fill="none" stroke="#6f6f6f" stroke-width="0.8580298261000785" stroke-linecap="round" opacity="1.0"/><path d="M546.1,65.8 Q535.7,76.7 526.1,88.4" fill="none" stroke="#939393" stroke-width="1.027120626325012" stroke-linecap="round" opacity="1.0"/><path d="M524.6,89.3 Q512.6,93.8 501.5,100.1" fill="none" stroke="#888888" stroke-width="0.8274946301933974" stroke-linecap="round" opacity="1.0"/><path d="M483.3,48.6 Q489.4,50.8 492.2,56.6" fill="none" stroke="#767676" stroke-width="1.1814106665586401" stroke-linecap="round" opacity="1.0"/><path d="M493.4,53.2 Q496.0,61.1 503.5,64.5" fill="none" stroke="#868686" stroke-width="1.165478603400193" stroke-linecap="round" opacity="1.0"/><path d="M480.7,80.3 Q480.1,88.1 486.0,93.4" fill="none" stroke="#858585" stroke-width="1.1341698462647878" stroke-linecap="round" opacity="1.0"/><path d="M512.3,86.1 Q527.9,90.6 534.5,105.4" fill="none" stroke="#787878" stroke-width="0.9606445255854217" stroke-linecap="round" opacity="1.0"/><path d="M477.7,90.2 Q484.4,104.9 495.2,116.9" fill="none" stroke="#7b7b7b" stroke-width="1.3487285538443259" stroke-linecap="round" opacity="1.0"/><path d="M507.3,42.7 Q507.7,51.0 504.2,58.6" fill="none" stroke="#838383" stroke-width="1.338693730161486" stroke-linecap="round" opacity="1.0"/><path d="M501.7,29.6 Q508.3,47.3 500.6,64.6" fill="none" stroke="#6d6d6d" stroke-width="0.8657894782103955" stroke-linecap="round" opacity="1.0"/><path d="M508.9,89.7 Q519.2,90.6 529.0,93.8" fill="none" stroke="#949494" stroke-width="1.1174686070594821" stroke-linecap="round" opacity="1.0"/><path d="M549.0,93.2 Q545.0,96.5 542.5,101.1" fill="none" stroke="#818181" stroke-width="0.9600951139715257" stroke-linecap="round" opacity="1.0"/><path d="M518.5,28.4 Q515.3,39.4 521.5,49.0" fill="none" stroke="#8f8f8f" stroke-width="0.9580334304506545" stroke-linecap="round" opacity="1.0"/><path d="M524.1,37.4 Q510.4,47.0 494.0,50.4" fill="none" stroke="#858585" stroke-width="1.1653821268629034" stroke-linecap="round" opacity="1.0"/><path d="M490.9,82.0 Q481.7,89.2 472.9,97.0" fill="none" stroke="#6b6b6b" stroke-width="0.9944936342028039" stroke-linecap="round" opacity="1.0"/><path d="M485.3,94.4 Q473.1,105.1 457.7,110.5" fill="none" stroke="#6d6d6d" stroke-width="1.3268057595224243" stroke-linecap="round" opacity="1.0"/><path d="M533.0,34.3 Q543.2,39.5 554.7,39.1" fill="none" stroke="#8a8a8a" stroke-width="0.8770348786998577" stroke-linecap="round" opacity="1.0"/><path d="M514.7,69.6 Q507.3,73.5 499.4,76.1" fill="none" stroke="#747474" stroke-width="1.1235776532676751" stroke-linecap="round" opacity="1.0"/><path d="M535.8,45.6 Q526.9,44.4 518.0,45.8" fill="none" stroke="#7d7d7d" stroke-width="1.1105455046213544" stroke-linecap="round" opacity="1.0"/><path d="M482.0,38.7 Q481.8,48.2 476.9,56.4" fill="none" stroke="#747474" stroke-width="0.8425958516054195" stroke-linecap="round" opacity="1.0"/><path d="M534.0,40.9 Q522.2,54.2 504.5,54.8" fill="none" stroke="#757575" stroke-width="1.2013866669777684" stroke-linecap="round" opacity="1.0"/><path d="M490.4,24.0 Q487.2,40.4 483.0,56.6" fill="none" stroke="#8b8b8b" stroke-width="1.284498198659986" stroke-linecap="round" opacity="1.0"/><path d="M482.4,27.5 Q485.2,37.5 487.3,47.7" fill="none" stroke="#898989" stroke-width="1.204018728375981" stroke-linecap="round" opacity="1.0"/><path d="M541.9,28.9 Q543.6,39.4 551.6,46.5" fill="none" stroke="#757575" stroke-width="0.914125345064487" stroke-linecap="round" opacity="1.0"/><path d="M499.0,56.9 Q502.5,65.4 511.0,68.9" fill="none" stroke="#7d7d7d" stroke-width="1.3168094628570983" stroke-linecap="round" opacity="1.0"/><path d="M528.1,25.3 Q508.9,26.8 497.7,42.6" fill="none" stroke="#919191" stroke-width="1.3092174406485833" stroke-linecap="round" opacity="1.0"/><path d="M480.6,60.6 Q486.2,66.8 485.3,75.2" fill="none" stroke="#7b7b7b" stroke-width="1.3911853062678354" stroke-linecap="round" opacity="1.0"/><path d="M488.1,80.8 Q485.9,92.3 493.2,101.5" fill="none" stroke="#949494" stroke-width="1.1334609940433709" stroke-linecap="round" opacity="1.0"/><path d="M534.7,41.2 Q526.0,41.4 517.4,42.9" fill="none" stroke="#818181" stroke-width="1.2487853362274384" stroke-linecap="round" opacity="1.0"/><path d="M484.6,70.5 Q476.2,79.0 464.4,80.6" fill="none" stroke="#929292" stroke-width="0.8480668791443522" stroke-linecap="round" opacity="1.0"/><path d="M474.6,67.4 Q487.9,72.6 494.4,85.5" fill="none" stroke="#8f8f8f" stroke-width="0.9477292086731749" stroke-linecap="round" opacity="1.0"/><path d="M519.0,68.4 Q516.1,78.3 513.7,88.2" fill="none" stroke="#919191" stroke-width="0.9225555196541219" stroke-linecap="round" opacity="1.0"/><path d="M531.0,40.1 Q527.6,49.6 520.8,57.2" fill="none" stroke="#787878" stroke-width="1.2511186954486413" stroke-linecap="round" opacity="1.0"/><path d="M493.1,65.5 Q475.7,73.2 458.2,66.0" fill="none" stroke="#747474" stroke-width="0.9591202488502408" stroke-linecap="round" opacity="1.0"/><path d="M536.4,84.0 Q547.8,96.5 549.2,113.4" fill="none" stroke="#8d8d8d" stroke-width="1.2221239550524226" stroke-linecap="round" opacity="1.0"/><path d="M504.5,106.7 Q517.6,111.2 530.9,107.3" fill="none" stroke="#777777" stroke-width="1.1980332289796465" stroke-linecap="round" opacity="1.0"/><path d="M537.2,38.3 Q543.1,40.8 549.3,42.6" fill="none" stroke="#767676" stroke-width="1.1628978962181344" stroke-linecap="round" opacity="1.0"/><path d="M517.2,36.3 Q526.1,45.8 534.7,55.4" fill="none" stroke="#909090" stroke-width="1.3076622279769132" stroke-linecap="round" opacity="1.0"/><path d="M468.7,62.9 Q477.2,65.3 485.7,63.1" fill="none" stroke="#858585" stroke-width="0.9571731574606089" stroke-linecap="round" opacity="1.0"/><path d="M517.5,72.7 Q527.9,68.6 538.2,73.3" fill="none" stroke="#8f8f8f" stroke-width="1.3423571429359358" stroke-linecap="round" opacity="1.0"/><path d="M501.6,89.6 Q514.6,91.0 523.5,100.6" fill="none" stroke="#787878" stroke-width="1.339388893245554" stroke-linecap="round" opacity="1.0"/><path d="M519.3,87.2 Q534.6,93.9 544.9,107.1" fill="none" stroke="#6f6f6f" stroke-width="1.2680697451228655" stroke-linecap="round" opacity="1.0"/></g><g filter="url(#fblur)"><path d="M482,34 L483.6,57.4" fill="none" stroke="#cccccc" stroke-width="1.04" stroke-linecap="round" opacity="1.0"/><path d="M482.5,39.4 L486.8,37.2" fill="none" stroke="#858585" stroke-width="0.8" stroke-linecap="round" opacity="1.0"/><path d="M475,45.7 L476.2,57.4" fill="none" stroke="#858585" stroke-width="0.8" stroke-linecap="round" opacity="1.0"/><path d="M488.9,46.8 L486.8,58.5" fill="none" stroke="#b8b8b8" stroke-width="0.8800000000000001" stroke-linecap="round" opacity="1.0"/><path d="M501.6,46.8 L496.9,57.4" fill="none" stroke="#b2b2b2" stroke-width="0.8800000000000001" stroke-linecap="round" opacity="1.0"/><path d="M475,58.5 Q488.9,64.8 510,69" fill="none" stroke="#b8b8b8" stroke-width="0.96" stroke-linecap="round" opacity="1.0"/><path d="M497.4,59.5 L510,64.8" fill="none" stroke="#858585" stroke-width="0.8" stroke-linecap="round" opacity="1.0"/><path d="M530.3,34 L537.2,48.9" fill="none" stroke="#cccccc" stroke-width="0.96" stroke-linecap="round" opacity="1.0"/><path d="M539.8,34 Q538.8,43.6 536.6,48.9" fill="none" stroke="#cccccc" stroke-width="0.96" stroke-linecap="round" opacity="1.0"/><path d="M508,59.5 L523.9,42.5" fill="none" stroke="#b2b2b2" stroke-width="0.8800000000000001" stroke-linecap="round" opacity="1.0"/><path d="M511.2,37.2 L517.5,42.5" fill="none" stroke="#858585" stroke-width="0.8" stroke-linecap="round" opacity="1.0"/><path d="M518.6,62.7 L525,57.4" fill="none" stroke="#b2b2b2" stroke-width="0.8" stroke-linecap="round" opacity="1.0"/><path d="M508,65.9 L529.2,68" fill="none" stroke="#858585" stroke-width="0.8" stroke-linecap="round" opacity="1.0"/><path d="M490.5,68 L492.6,78.6" fill="none" stroke="#cccccc" stroke-width="1.04" stroke-linecap="round" opacity="1.0"/><path d="M499.5,80.2 L494.7,85.5" fill="none" stroke="#f2f2f2" stroke-width="1.2000000000000002" stroke-linecap="round" opacity="1.0"/><path d="M494.2,68 L510,78.6" fill="none" stroke="#858585" stroke-width="0.8" stroke-linecap="round" opacity="1.0"/><path d="M475,87 L491,91.3" fill="none" stroke="#858585" stroke-width="0.8" stroke-linecap="round" opacity="1.0"/><path d="M473,99.8 L479.4,105" fill="none" stroke="#b2b2b2" stroke-width="0.8" stroke-linecap="round" opacity="1.0"/><path d="M494.2,91.3 L510,85" fill="none" stroke="#858585" stroke-width="0.8" stroke-linecap="round" opacity="1.0"/><path d="M531.9,73.3 Q536.6,89.2 538.8,92.4" fill="none" stroke="#cccccc" stroke-width="1.04" stroke-linecap="round" opacity="1.0"/><path d="M532.4,76.5 L541.9,79.7" fill="none" stroke="#b2b2b2" stroke-width="0.8" stroke-linecap="round" opacity="1.0"/><path d="M508,85 Q518.6,78.6 523.9,73.3" fill="none" stroke="#858585" stroke-width="0.8" stroke-linecap="round" opacity="1.0"/><path d="M508,93.5 Q521.8,89.2 529.2,81.8" fill="none" stroke="#858585" stroke-width="0.8" stroke-linecap="round" opacity="1.0"/><path d="M510.1,95.6 L522.8,98.8" fill="none" stroke="#b2b2b2" stroke-width="0.8800000000000001" stroke-linecap="round" opacity="1.0"/><path d="M516.5,72.2 L523.9,72.2" fill="none" stroke="#b2b2b2" stroke-width="0.8800000000000001" stroke-linecap="round" opacity="1.0"/></g></g></g>
<g clip-path="url(#clip_c10)"><g filter="url(#map_c10)"><rect x="325.6" y="107.2" width="73.89999999999998" height="70.99999999999999" fill="#808080"/><g filter="url(#blur)"><rect x="306.6" y="88.2" width="32.5" height="32.0" fill="#9a9a9a"/><rect x="338.6" y="88.2" width="12.5" height="32.0" fill="#afafaf"/><rect x="350.6" y="88.2" width="12.5" height="32.0" fill="#afafaf"/><rect x="362.6" y="88.2" width="12.5" height="32.0" fill="#9a9a9a"/><rect x="374.5" y="88.2" width="12.5" height="32.0" fill="#afafaf"/><rect x="386.5" y="88.2" width="32.5" height="32.0" fill="#9a9a9a"/><rect x="306.6" y="119.7" width="32.5" height="12.0" fill="#8b8b8b"/><rect x="338.6" y="119.7" width="12.5" height="12.0" fill="#9a9a9a"/><rect x="350.6" y="119.7" width="12.5" height="12.0" fill="#8b8b8b"/><rect x="362.6" y="119.7" width="12.5" height="12.0" fill="#afafaf"/><rect x="374.5" y="119.7" width="12.5" height="12.0" fill="#afafaf"/><rect x="386.5" y="119.7" width="32.5" height="12.0" fill="#9a9a9a"/><rect x="306.6" y="131.2" width="32.5" height="12.0" fill="#afafaf"/><rect x="338.6" y="131.2" width="12.5" height="12.0" fill="#9a9a9a"/><rect x="350.6" y="131.2" width="12.5" height="12.0" fill="#afafaf"/><rect x="362.6" y="131.2" width="12.5" height="12.0" fill="#afafaf"/><rect x="374.5" y="131.2" width="12.5" height="12.0" fill="#9a9a9a"/><rect x="386.5" y="131.2" width="32.5" height="12.0" fill="#afafaf"/><rect x="306.6" y="142.7" width="32.5" height="12.0" fill="#8b8b8b"/><rect x="338.6" y="142.7" width="12.5" height="12.0" fill="#afafaf"/><rect x="350.6" y="142.7" width="12.5" height="12.0" fill="#9a9a9a"/><rect x="362.6" y="142.7" width="12.5" height="12.0" fill="#9a9a9a"/><rect x="374.5" y="142.7" width="12.5" height="12.0" fill="#afafaf"/><rect x="386.5" y="142.7" width="32.5" height="12.0" fill="#9a9a9a"/><rect x="306.6" y="154.2" width="32.5" height="12.0" fill="#9a9a9a"/><rect x="338.6" y="154.2" width="12.5" height="12.0" fill="#8b8b8b"/><rect x="350.6" y="154.2" width="12.5" height="12.0" fill="#afafaf"/><rect x="362.6" y="154.2" width="12.5" height="12.0" fill="#9a9a9a"/><rect x="374.5" y="154.2" width="12.5" height="12.0" fill="#afafaf"/><rect x="386.5" y="154.2" width="32.5" height="12.0" fill="#9a9a9a"/><rect x="306.6" y="165.7" width="32.5" height="32.0" fill="#afafaf"/><rect x="338.6" y="165.7" width="12.5" height="32.0" fill="#9a9a9a"/><rect x="350.6" y="165.7" width="12.5" height="32.0" fill="#8b8b8b"/><rect x="362.6" y="165.7" width="12.5" height="32.0" fill="#afafaf"/><rect x="374.5" y="165.7" width="12.5" height="32.0" fill="#9a9a9a"/><rect x="386.5" y="165.7" width="32.5" height="32.0" fill="#afafaf"/></g><g transform="rotate(0 362.55 142.7)"><rect x="307.55" y="87.69999999999999" width="110" height="110" filter="url(#rel_c10)" opacity="0.35"/></g><circle cx="346" cy="135" r="9.2" fill="url(#sd5)"/><circle cx="361.3" cy="122.4" r="4.7" fill="url(#sd6)"/><circle cx="386.6" cy="119" r="6.3" fill="url(#sd7)"/><circle cx="373.8" cy="163.1" r="6.1" fill="url(#sd8)"/><circle cx="349.6" cy="166.2" r="3.2" fill="url(#sd9)"/><g filter="url(#fblur2)"><path d="M348.4,144.5 Q349.5,145.9 351.1,146.8" fill="none" stroke="#787878" stroke-width="1.2513830805711024" stroke-linecap="round" opacity="1.0"/><path d="M353.9,144.4 Q355.8,145.7 357.6,147.2" fill="none" stroke="#7d7d7d" stroke-width="1.6672635313633801" stroke-linecap="round" opacity="1.0"/><path d="M374.2,163.7 Q376.7,166.0 376.4,169.4" fill="none" stroke="#6f6f6f" stroke-width="1.8027801000475088" stroke-linecap="round" opacity="1.0"/><path d="M387.7,171.3 Q386.0,172.9 384.4,174.6" fill="none" stroke="#757575" stroke-width="1.376430955459055" stroke-linecap="round" opacity="1.0"/><path d="M342.2,137.4 Q342.7,138.9 343.7,140.1" fill="none" stroke="#707070" stroke-width="1.332035784962807" stroke-linecap="round" opacity="1.0"/><path d="M357.0,118.2 Q359.8,118.1 362.5,118.7" fill="none" stroke="#747474" stroke-width="1.2216816370722499" stroke-linecap="round" opacity="1.0"/><path d="M369.3,118.6 Q371.8,118.7 374.1,119.3" fill="none" stroke="#6b6b6b" stroke-width="1.4614766439050468" stroke-linecap="round" opacity="1.0"/><path d="M382.4,133.5 Q380.1,135.7 377.2,136.5" fill="none" stroke="#686868" stroke-width="1.2155066296400086" stroke-linecap="round" opacity="1.0"/><path d="M365.7,174.0 Q364.1,175.7 363.7,178.0" fill="none" stroke="#777777" stroke-width="1.803386563247621" stroke-linecap="round" opacity="1.0"/><path d="M391.2,122.4 Q392.8,122.6 393.9,123.9" fill="none" stroke="#777777" stroke-width="1.6511756655440153" stroke-linecap="round" opacity="1.0"/><path d="M340.2,154.6 Q342.7,156.4 345.4,157.7" fill="none" stroke="#797979" stroke-width="1.291626297103118" stroke-linecap="round" opacity="1.0"/><path d="M382.0,173.5 Q383.7,173.3 385.4,173.8" fill="none" stroke="#777777" stroke-width="1.9665382705647168" stroke-linecap="round" opacity="1.0"/><path d="M355.9,155.8 Q354.8,157.1 354.0,158.6" fill="none" stroke="#696969" stroke-width="1.8179847079609792" stroke-linecap="round" opacity="1.0"/><path d="M387.6,149.5 Q385.8,149.1 384.1,149.7" fill="none" stroke="#6f6f6f" stroke-width="1.5427024105877956" stroke-linecap="round" opacity="1.0"/></g></g></g>
<g clip-path="url(#clip_c11)"><g filter="url(#map_c11)"><rect x="399.6" y="107.2" width="73.0" height="70.99999999999999" fill="#808080"/><g filter="url(#blur2)"><rect x="380.6" y="88.2" width="29.4" height="29.1" fill="#363636"/><rect x="409.5" y="88.2" width="9.4" height="29.1" fill="#000000"/><rect x="418.4" y="88.2" width="9.4" height="29.1" fill="#000000"/><rect x="427.2" y="88.2" width="9.4" height="29.1" fill="#484848"/><rect x="436.1" y="88.2" width="9.4" height="29.1" fill="#666666"/><rect x="445.0" y="88.2" width="9.4" height="29.1" fill="#1e1e1e"/><rect x="453.9" y="88.2" width="9.4" height="29.1" fill="#484848"/><rect x="462.7" y="88.2" width="29.4" height="29.1" fill="#727272"/><rect x="380.6" y="116.8" width="29.4" height="9.1" fill="#484848"/><rect x="409.5" y="116.8" width="9.4" height="9.1" fill="#0c0c0c"/><rect x="418.4" y="116.8" width="9.4" height="9.1" fill="#000000"/><rect x="427.2" y="116.8" width="9.4" height="9.1" fill="#848484"/><rect x="436.1" y="116.8" width="9.4" height="9.1" fill="#848484"/><rect x="445.0" y="116.8" width="9.4" height="9.1" fill="#0c0c0c"/><rect x="453.9" y="116.8" width="9.4" height="9.1" fill="#666666"/><rect x="462.7" y="116.8" width="29.4" height="9.1" fill="#969696"/><rect x="380.6" y="125.5" width="29.4" height="9.1" fill="#666666"/><rect x="409.5" y="125.5" width="9.4" height="9.1" fill="#5a5a5a"/><rect x="418.4" y="125.5" width="9.4" height="9.1" fill="#363636"/><rect x="427.2" y="125.5" width="9.4" height="9.1" fill="#666666"/><rect x="436.1" y="125.5" width="9.4" height="9.1" fill="#666666"/><rect x="445.0" y="125.5" width="9.4" height="9.1" fill="#2a2a2a"/><rect x="453.9" y="125.5" width="9.4" height="9.1" fill="#848484"/><rect x="462.7" y="125.5" width="29.4" height="9.1" fill="#a2a2a2"/><rect x="380.6" y="134.1" width="29.4" height="9.1" fill="#2a2a2a"/><rect x="409.5" y="134.1" width="9.4" height="9.1" fill="#848484"/><rect x="418.4" y="134.1" width="9.4" height="9.1" fill="#848484"/><rect x="427.2" y="134.1" width="9.4" height="9.1" fill="#848484"/><rect x="436.1" y="134.1" width="9.4" height="9.1" fill="#666666"/><rect x="445.0" y="134.1" width="9.4" height="9.1" fill="#5a5a5a"/><rect x="453.9" y="134.1" width="9.4" height="9.1" fill="#848484"/><rect x="462.7" y="134.1" width="29.4" height="9.1" fill="#848484"/><rect x="380.6" y="142.7" width="29.4" height="9.1" fill="#c0c0c0"/><rect x="409.5" y="142.7" width="9.4" height="9.1" fill="#d3d3d3"/><rect x="418.4" y="142.7" width="9.4" height="9.1" fill="#aeaeae"/><rect x="427.2" y="142.7" width="9.4" height="9.1" fill="#666666"/><rect x="436.1" y="142.7" width="9.4" height="9.1" fill="#727272"/><rect x="445.0" y="142.7" width="9.4" height="9.1" fill="#d3d3d3"/><rect x="453.9" y="142.7" width="9.4" height="9.1" fill="#dfdfdf"/><rect x="462.7" y="142.7" width="29.4" height="9.1" fill="#d3d3d3"/><rect x="380.6" y="151.3" width="29.4" height="9.1" fill="#aeaeae"/><rect x="409.5" y="151.3" width="9.4" height="9.1" fill="#a2a2a2"/><rect x="418.4" y="151.3" width="9.4" height="9.1" fill="#c0c0c0"/><rect x="427.2" y="151.3" width="9.4" height="9.1" fill="#aeaeae"/><rect x="436.1" y="151.3" width="9.4" height="9.1" fill="#a2a2a2"/><rect x="445.0" y="151.3" width="9.4" height="9.1" fill="#848484"/><rect x="453.9" y="151.3" width="9.4" height="9.1" fill="#aeaeae"/><rect x="462.7" y="151.3" width="29.4" height="9.1" fill="#d3d3d3"/><rect x="380.6" y="159.9" width="29.4" height="9.1" fill="#a2a2a2"/><rect x="409.5" y="159.9" width="9.4" height="9.1" fill="#c0c0c0"/><rect x="418.4" y="159.9" width="9.4" height="9.1" fill="#aeaeae"/><rect x="427.2" y="159.9" width="9.4" height="9.1" fill="#c0c0c0"/><rect x="436.1" y="159.9" width="9.4" height="9.1" fill="#aeaeae"/><rect x="445.0" y="159.9" width="9.4" height="9.1" fill="#666666"/><rect x="453.9" y="159.9" width="9.4" height="9.1" fill="#aeaeae"/><rect x="462.7" y="159.9" width="29.4" height="9.1" fill="#aeaeae"/><rect x="380.6" y="168.6" width="29.4" height="29.1" fill="#aeaeae"/><rect x="409.5" y="168.6" width="9.4" height="29.1" fill="#c0c0c0"/><rect x="418.4" y="168.6" width="9.4" height="29.1" fill="#d3d3d3"/><rect x="427.2" y="168.6" width="9.4" height="29.1" fill="#c0c0c0"/><rect x="436.1" y="168.6" width="9.4" height="29.1" fill="#aeaeae"/><rect x="445.0" y="168.6" width="9.4" height="29.1" fill="#a2a2a2"/><rect x="453.9" y="168.6" width="9.4" height="29.1" fill="#c0c0c0"/><rect x="462.7" y="168.6" width="29.4" height="29.1" fill="#aeaeae"/></g><g transform="rotate(0 436.1 142.7)"><rect x="381.1" y="87.69999999999999" width="110" height="110" filter="url(#rel_c11)" opacity="0.28"/></g></g></g>
<g clip-path="url(#clip_c12)"><g filter="url(#map_c12)"><rect x="473" y="107.2" width="71.60000000000002" height="70.99999999999999" fill="#808080"/><g filter="url(#blur2)"><rect x="454.0" y="88.2" width="29.2" height="29.1" fill="#bbbbbb"/><rect x="482.7" y="88.2" width="9.2" height="29.1" fill="#898989"/><rect x="491.4" y="88.2" width="9.2" height="29.1" fill="#adadad"/><rect x="500.1" y="88.2" width="9.2" height="29.1" fill="#bbbbbb"/><rect x="508.8" y="88.2" width="9.2" height="29.1" fill="#adadad"/><rect x="517.5" y="88.2" width="9.2" height="29.1" fill="#bbbbbb"/><rect x="526.2" y="88.2" width="9.2" height="29.1" fill="#adadad"/><rect x="534.9" y="88.2" width="29.2" height="29.1" fill="#898989"/><rect x="454.0" y="116.8" width="29.2" height="9.1" fill="#9f9f9f"/><rect x="482.7" y="116.8" width="9.2" height="9.1" fill="#2c2c2c"/><rect x="491.4" y="116.8" width="9.2" height="9.1" fill="#898989"/><rect x="500.1" y="116.8" width="9.2" height="9.1" fill="#424242"/><rect x="508.8" y="116.8" width="9.2" height="9.1" fill="#adadad"/><rect x="517.5" y="116.8" width="9.2" height="9.1" fill="#bbbbbb"/><rect x="526.2" y="116.8" width="9.2" height="9.1" fill="#adadad"/><rect x="534.9" y="116.8" width="29.2" height="9.1" fill="#666666"/><rect x="454.0" y="125.5" width="29.2" height="9.1" fill="#9f9f9f"/><rect x="482.7" y="125.5" width="9.2" height="9.1" fill="#424242"/><rect x="491.4" y="125.5" width="9.2" height="9.1" fill="#666666"/><rect x="500.1" y="125.5" width="9.2" height="9.1" fill="#898989"/><rect x="508.8" y="125.5" width="9.2" height="9.1" fill="#9f9f9f"/><rect x="517.5" y="125.5" width="9.2" height="9.1" fill="#adadad"/><rect x="526.2" y="125.5" width="9.2" height="9.1" fill="#9f9f9f"/><rect x="534.9" y="125.5" width="29.2" height="9.1" fill="#424242"/><rect x="454.0" y="134.1" width="29.2" height="9.1" fill="#adadad"/><rect x="482.7" y="134.1" width="9.2" height="9.1" fill="#9f9f9f"/><rect x="491.4" y="134.1" width="9.2" height="9.1" fill="#909090"/><rect x="500.1" y="134.1" width="9.2" height="9.1" fill="#424242"/><rect x="508.8" y="134.1" width="9.2" height="9.1" fill="#000000"/><rect x="517.5" y="134.1" width="9.2" height="9.1" fill="#424242"/><rect x="526.2" y="134.1" width="9.2" height="9.1" fill="#575757"/><rect x="534.9" y="134.1" width="29.2" height="9.1" fill="#424242"/><rect x="454.0" y="142.7" width="29.2" height="9.1" fill="#c9c9c9"/><rect x="482.7" y="142.7" width="9.2" height="9.1" fill="#bbbbbb"/><rect x="491.4" y="142.7" width="9.2" height="9.1" fill="#9f9f9f"/><rect x="500.1" y="142.7" width="9.2" height="9.1" fill="#2c2c2c"/><rect x="508.8" y="142.7" width="9.2" height="9.1" fill="#424242"/><rect x="517.5" y="142.7" width="9.2" height="9.1" fill="#666666"/><rect x="526.2" y="142.7" width="9.2" height="9.1" fill="#1e1e1e"/><rect x="534.9" y="142.7" width="29.2" height="9.1" fill="#666666"/><rect x="454.0" y="151.3" width="29.2" height="9.1" fill="#c9c9c9"/><rect x="482.7" y="151.3" width="9.2" height="9.1" fill="#adadad"/><rect x="491.4" y="151.3" width="9.2" height="9.1" fill="#9f9f9f"/><rect x="500.1" y="151.3" width="9.2" height="9.1" fill="#666666"/><rect x="508.8" y="151.3" width="9.2" height="9.1" fill="#898989"/><rect x="517.5" y="151.3" width="9.2" height="9.1" fill="#2c2c2c"/><rect x="526.2" y="151.3" width="9.2" height="9.1" fill="#898989"/><rect x="534.9" y="151.3" width="29.2" height="9.1" fill="#898989"/><rect x="454.0" y="159.9" width="29.2" height="9.1" fill="#bbbbbb"/><rect x="482.7" y="159.9" width="9.2" height="9.1" fill="#adadad"/><rect x="491.4" y="159.9" width="9.2" height="9.1" fill="#898989"/><rect x="500.1" y="159.9" width="9.2" height="9.1" fill="#2c2c2c"/><rect x="508.8" y="159.9" width="9.2" height="9.1" fill="#000000"/><rect x="517.5" y="159.9" width="9.2" height="9.1" fill="#424242"/><rect x="526.2" y="159.9" width="9.2" height="9.1" fill="#898989"/><rect x="534.9" y="159.9" width="29.2" height="9.1" fill="#898989"/><rect x="454.0" y="168.6" width="29.2" height="29.1" fill="#adadad"/><rect x="482.7" y="168.6" width="9.2" height="29.1" fill="#9f9f9f"/><rect x="491.4" y="168.6" width="9.2" height="29.1" fill="#898989"/><rect x="500.1" y="168.6" width="9.2" height="29.1" fill="#898989"/><rect x="508.8" y="168.6" width="9.2" height="29.1" fill="#898989"/><rect x="517.5" y="168.6" width="9.2" height="29.1" fill="#9f9f9f"/><rect x="526.2" y="168.6" width="9.2" height="29.1" fill="#898989"/><rect x="534.9" y="168.6" width="29.2" height="29.1" fill="#898989"/></g><g transform="rotate(-25 508.8 142.7)"><rect x="453.8" y="87.69999999999999" width="110" height="110" filter="url(#rel_c12)" opacity="0.5"/></g><g filter="url(#fblur3)" opacity="0.7"><path d="M522.9,135.1 Q533.7,141.0 545.8,138.6" fill="none" stroke="#bcbcbc" stroke-width="2.554003235922516" stroke-linecap="round" opacity="1.0"/><path d="M522.8,106.1 Q535.1,109.7 545.5,117.1" fill="none" stroke="#bbbbbb" stroke-width="2.54290568061828" stroke-linecap="round" opacity="1.0"/><path d="M525.4,167.1 Q534.4,166.3 540.6,159.9" fill="none" stroke="#bababa" stroke-width="1.7891638328093638" stroke-linecap="round" opacity="1.0"/><path d="M523.4,146.2 Q531.6,142.3 536.4,134.5" fill="none" stroke="#adadad" stroke-width="1.530763765111887" stroke-linecap="round" opacity="1.0"/><path d="M475.0,133.1 Q488.9,133.6 502.5,130.2" fill="none" stroke="#b0b0b0" stroke-width="2.775494593357738" stroke-linecap="round" opacity="1.0"/><path d="M505.5,175.9 Q513.2,174.8 517.3,168.1" fill="none" stroke="#acacac" stroke-width="2.7512946104900218" stroke-linecap="round" opacity="1.0"/><path d="M485.1,122.4 Q494.1,118.0 501.9,111.9" fill="none" stroke="#b3b3b3" stroke-width="2.000754063348145" stroke-linecap="round" opacity="1.0"/><path d="M506.7,136.7 Q509.1,123.1 521.5,116.9" fill="none" stroke="#bbbbbb" stroke-width="2.1999875962206294" stroke-linecap="round" opacity="1.0"/><path d="M513.7,166.0 Q524.6,160.6 533.2,151.9" fill="none" stroke="#afafaf" stroke-width="1.9080903385758674" stroke-linecap="round" opacity="1.0"/><path d="M523.8,160.5 Q531.4,155.9 540.1,154.5" fill="none" stroke="#b1b1b1" stroke-width="2.023120503175042" stroke-linecap="round" opacity="1.0"/><path d="M485.9,116.5 Q494.7,122.3 505.1,120.3" fill="none" stroke="#b5b5b5" stroke-width="1.8912348369352348" stroke-linecap="round" opacity="1.0"/><path d="M506.0,116.0 Q511.7,109.6 518.3,104.0" fill="none" stroke="#b4b4b4" stroke-width="2.351117310813993" stroke-linecap="round" opacity="1.0"/><path d="M511.7,148.4 Q514.3,145.4 514.8,141.4" fill="none" stroke="#515151" stroke-width="1.5847955367251219" stroke-linecap="round" opacity="1.0"/><path d="M511.5,154.2 Q516.0,154.8 520.1,152.8" fill="none" stroke="#606060" stroke-width="2.172795670557167" stroke-linecap="round" opacity="1.0"/><path d="M498.3,134.8 Q501.5,135.0 504.2,133.1" fill="none" stroke="#4e4e4e" stroke-width="1.9144410109977192" stroke-linecap="round" opacity="1.0"/><path d="M515.8,132.9 Q521.5,133.7 527.2,134.6" fill="none" stroke="#535353" stroke-width="2.156058011111784" stroke-linecap="round" opacity="1.0"/><path d="M484.2,158.6 Q490.3,156.8 496.4,159.0" fill="none" stroke="#656565" stroke-width="2.017957750443741" stroke-linecap="round" opacity="1.0"/><path d="M486.1,136.5 Q492.5,135.9 498.9,136.0" fill="none" stroke="#616161" stroke-width="2.167577732586353" stroke-linecap="round" opacity="1.0"/><path d="M532.6,150.9 Q539.2,153.3 546.1,152.7" fill="none" stroke="#595959" stroke-width="2.3305691697214153" stroke-linecap="round" opacity="1.0"/><path d="M512.6,169.0 Q517.3,165.3 522.2,161.8" fill="none" stroke="#535353" stroke-width="1.7472397375096596" stroke-linecap="round" opacity="1.0"/><path d="M517.5,162.0 Q520.8,157.6 526.3,156.9" fill="none" stroke="#545454" stroke-width="1.7717151070821846" stroke-linecap="round" opacity="1.0"/></g></g></g>
<rect x="37" y="177.5" width="70.5" height="6.5" fill="url(#cbar)"/>
<text x="106.7" y="183.2" text-anchor="end" font-family="Liberation Serif, serif"  font-size="5.4" fill="#111" textLength="22.2" lengthAdjust="spacingAndGlyphs" stroke="#111" stroke-width="0.25">2.6 log(Pa)</text>
<rect x="110.5" y="177.5" width="71.5" height="6.5" fill="url(#cbar)"/>
<text x="181.2" y="183.2" text-anchor="end" font-family="Liberation Serif, serif"  font-size="5.4" fill="#111" textLength="22.2" lengthAdjust="spacingAndGlyphs" stroke="#111" stroke-width="0.25">0.5 log(Pa)</text>
<rect x="184.5" y="177.5" width="70.5" height="6.5" fill="url(#cbar)"/>
<text x="254.2" y="183.2" text-anchor="end" font-family="Liberation Serif, serif"  font-size="5.4" fill="#111" textLength="22.2" lengthAdjust="spacingAndGlyphs" stroke="#111" stroke-width="0.25">2.7 log(Pa)</text>
<rect x="326.6" y="177.2" width="71.89999999999998" height="6.8" fill="url(#cbar)"/>
<text x="397.7" y="183.2" text-anchor="end" font-family="Liberation Serif, serif"  font-size="5.4" fill="#111" textLength="22.2" lengthAdjust="spacingAndGlyphs" stroke="#111" stroke-width="0.25">1.2 log(Pa)</text>
<rect x="400.6" y="177.2" width="71.0" height="6.8" fill="url(#cbar)"/>
<text x="470.8" y="183.2" text-anchor="end" font-family="Liberation Serif, serif"  font-size="5.4" fill="#111" textLength="22.2" lengthAdjust="spacingAndGlyphs" stroke="#111" stroke-width="0.25">1.1 log(Pa)</text>
<rect x="474" y="177.2" width="69.60000000000002" height="6.8" fill="url(#cbar)"/>
<text x="542.8000000000001" y="183.2" text-anchor="end" font-family="Liberation Serif, serif"  font-size="5.4" fill="#111" textLength="22.2" lengthAdjust="spacingAndGlyphs" stroke="#111" stroke-width="0.25">4.0 log(Pa)</text>
<rect x="87.2" y="98.2" width="18.8" height="1.4" fill="#2aa6cc"/>
<rect x="87.2" y="170.7" width="18.8" height="1.4" fill="#2aa6cc"/>
<rect x="161.7" y="98.2" width="18.8" height="1.4" fill="#2aa6cc"/>
<rect x="161.7" y="170.7" width="18.8" height="1.4" fill="#2aa6cc"/>
<rect x="234.7" y="98.2" width="18.8" height="1.4" fill="#2aa6cc"/>
<rect x="234.7" y="170.7" width="18.8" height="1.4" fill="#2aa6cc"/>
<rect x="378.0" y="98.3" width="18.8" height="1.3" fill="#2aa6cc"/>
<rect x="378.0" y="169.89999999999998" width="18.8" height="1.3" fill="#2aa6cc"/>
<rect x="451.1" y="98.3" width="18.8" height="1.3" fill="#2aa6cc"/>
<rect x="451.1" y="169.89999999999998" width="18.8" height="1.3" fill="#2aa6cc"/>
<rect x="523.1" y="98.3" width="18.8" height="1.3" fill="#2aa6cc"/>
<rect x="523.1" y="169.89999999999998" width="18.8" height="1.3" fill="#2aa6cc"/>
<defs><filter id="blur" x="-20%" y="-20%" width="140%" height="140%" color-interpolation-filters="sRGB"><feGaussianBlur stdDeviation="3.5"/></filter><filter id="blur2" x="-20%" y="-20%" width="140%" height="140%" color-interpolation-filters="sRGB"><feGaussianBlur stdDeviation="2"/></filter><filter id="fblur" x="-10%" y="-10%" width="120%" height="120%" color-interpolation-filters="sRGB"><feGaussianBlur stdDeviation="0.45"/></filter><filter id="fblur2" x="-10%" y="-10%" width="120%" height="120%" color-interpolation-filters="sRGB"><feGaussianBlur stdDeviation="0.7"/></filter><filter id="fblur3" x="-10%" y="-10%" width="120%" height="120%" color-interpolation-filters="sRGB"><feGaussianBlur stdDeviation="1.0"/></filter><linearGradient id="sg0" x1="0" y1="0.1" x2="1" y2="0.35"><stop offset="0" stop-color="#242424"/><stop offset="0.38" stop-color="#3d3d3d"/><stop offset="0.6" stop-color="#808080"/><stop offset="0.8" stop-color="#d1d1d1"/><stop offset="0.93" stop-color="#c2c2c2"/><stop offset="1" stop-color="#8c8c8c"/></linearGradient><linearGradient id="sg1" x1="0" y1="0.1" x2="1" y2="0.35"><stop offset="0" stop-color="#242424"/><stop offset="0.38" stop-color="#3d3d3d"/><stop offset="0.6" stop-color="#808080"/><stop offset="0.8" stop-color="#d1d1d1"/><stop offset="0.93" stop-color="#c2c2c2"/><stop offset="1" stop-color="#8c8c8c"/></linearGradient><linearGradient id="sg2" x1="0" y1="0.1" x2="1" y2="0.35"><stop offset="0" stop-color="#242424"/><stop offset="0.38" stop-color="#3d3d3d"/><stop offset="0.6" stop-color="#808080"/><stop offset="0.8" stop-color="#d1d1d1"/><stop offset="0.93" stop-color="#c2c2c2"/><stop offset="1" stop-color="#8c8c8c"/></linearGradient><linearGradient id="sg3" x1="0" y1="0.1" x2="1" y2="0.35"><stop offset="0" stop-color="#242424"/><stop offset="0.38" stop-color="#3d3d3d"/><stop offset="0.6" stop-color="#808080"/><stop offset="0.8" stop-color="#d1d1d1"/><stop offset="0.93" stop-color="#c2c2c2"/><stop offset="1" stop-color="#8c8c8c"/></linearGradient><linearGradient id="sg4" x1="0" y1="0.1" x2="1" y2="0.35"><stop offset="0" stop-color="#242424"/><stop offset="0.38" stop-color="#3d3d3d"/><stop offset="0.6" stop-color="#808080"/><stop offset="0.8" stop-color="#d1d1d1"/><stop offset="0.93" stop-color="#c2c2c2"/><stop offset="1" stop-color="#8c8c8c"/></linearGradient><radialGradient id="sd5" cx="0.5" cy="0.5" r="0.5"><stop offset="0" stop-color="#4c4c4c"/><stop offset="0.6" stop-color="#424242"/><stop offset="0.9" stop-color="#242424"/><stop offset="1" stop-color="#383838"/></radialGradient><radialGradient id="sd6" cx="0.5" cy="0.5" r="0.5"><stop offset="0" stop-color="#525252"/><stop offset="0.6" stop-color="#474747"/><stop offset="0.9" stop-color="#2e2e2e"/><stop offset="1" stop-color="#424242"/></radialGradient><radialGradient id="sd7" cx="0.5" cy="0.5" r="0.5"><stop offset="0" stop-color="#4c4c4c"/><stop offset="0.6" stop-color="#424242"/><stop offset="0.9" stop-color="#292929"/><stop offset="1" stop-color="#3d3d3d"/></radialGradient><radialGradient id="sd8" cx="0.5" cy="0.5" r="0.5"><stop offset="0" stop-color="#4c4c4c"/><stop offset="0.6" stop-color="#424242"/><stop offset="0.9" stop-color="#242424"/><stop offset="1" stop-color="#383838"/></radialGradient><radialGradient id="sd9" cx="0.5" cy="0.5" r="0.5"><stop offset="0" stop-color="#525252"/><stop offset="0.6" stop-color="#474747"/><stop offset="0.9" stop-color="#333333"/><stop offset="1" stop-color="#474747"/></radialGradient><clipPath id="clip_a00"><rect x="37" y="32.5" width="70.5" height="72.5"/></clipPath><filter id="map_a00" x="0" y="0" width="1" height="1" color-interpolation-filters="sRGB"><feComponentTransfer in="SourceGraphic"><feFuncR type="table" tableValues="0.000 0.031 0.063 0.094 0.125 0.163 0.201 0.238 0.276 0.313 0.347 0.381 0.416 0.450 0.482 0.512 0.541 0.571 0.600 0.626 0.651 0.675 0.700 0.725 0.744 0.762 0.780 0.798 0.816 0.830 0.845 0.860 0.875 0.890 0.908 0.925 0.943 0.961 0.975 0.987 1.000"/><feFuncG type="table" tableValues="0.000 0.003 0.006 0.009 0.012 0.022 0.033 0.044 0.054 0.069 0.098 0.127 0.157 0.186 0.219 0.257 0.294 0.332 0.369 0.405 0.439 0.474 0.508 0.542 0.571 0.599 0.627 0.655 0.682 0.708 0.735 0.761 0.787 0.814 0.842 0.871 0.899 0.928 0.952 0.976 1.000"/><feFuncB type="table" tableValues="0.000 0.000 0.000 0.000 0.000 0.002 0.003 0.005 0.007 0.009 0.016 0.022 0.029 0.035 0.045 0.060 0.075 0.089 0.104 0.123 0.145 0.167 0.189 0.211 0.242 0.276 0.309 0.343 0.376 0.421 0.465 0.509 0.553 0.599 0.655 0.710 0.765 0.820 0.880 0.940 1.000"/><feFuncA type="linear" slope="0" intercept="1"/></feComponentTransfer></filter><filter id="rel_a00" x="0" y="0" width="1" height="1" color-interpolation-filters="sRGB"><feTurbulence type="fractalNoise" baseFrequency="0.07 0.16" numOctaves="4" seed="3" result="n"/><feColorMatrix in="n" type="matrix" values="0 0 0 0 0  0 0 0 0 0  0 0 0 0 0  1 0 0 0 0" result="a"/><feDiffuseLighting in="a" surfaceScale="5" diffuseConstant="0.707" lighting-color="#ffffff" result="L"><feDistantLight azimuth="0" elevation="45"/></feDiffuseLighting><feComponentTransfer in="L"><feFuncR type="linear" slope="1.0" intercept="0.0"/><feFuncG type="linear" slope="1.0" intercept="0.0"/><feFuncB type="linear" slope="1.0" intercept="0.0"/><feFuncA type="linear" slope="0" intercept="1"/></feComponentTransfer></filter><clipPath id="clip_a01"><rect x="110.5" y="32.5" width="71.5" height="72.5"/></clipPath><filter id="map_a01" x="0" y="0" width="1" height="1" color-interpolation-filters="sRGB"><feComponentTransfer in="SourceGraphic"><feFuncR type="table" tableValues="0.000 0.031 0.063 0.094 0.125 0.163 0.201 0.238 0.276 0.313 0.347 0.381 0.416 0.450 0.482 0.512 0.541 0.571 0.600 0.626 0.651 0.675 0.700 0.725 0.744 0.762 0.780 0.798 0.816 0.830 0.845 0.860 0.875 0.890 0.908 0.925 0.943 0.961 0.975 0.987 1.000"/><feFuncG type="table" tableValues="0.000 0.003 0.006 0.009 0.012 0.022 0.033 0.044 0.054 0.069 0.098 0.127 0.157 0.186 0.219 0.257 0.294 0.332 0.369 0.405 0.439 0.474 0.508 0.542 0.571 0.599 0.627 0.655 0.682 0.708 0.735 0.761 0.787 0.814 0.842 0.871 0.899 0.928 0.952 0.976 1.000"/><feFuncB type="table" tableValues="0.000 0.000 0.000 0.000 0.000 0.002 0.003 0.005 0.007 0.009 0.016 0.022 0.029 0.035 0.045 0.060 0.075 0.089 0.104 0.123 0.145 0.167 0.189 0.211 0.242 0.276 0.309 0.343 0.376 0.421 0.465 0.509 0.553 0.599 0.655 0.710 0.765 0.820 0.880 0.940 1.000"/><feFuncA type="linear" slope="0" intercept="1"/></feComponentTransfer></filter><filter id="rel_a01" x="0" y="0" width="1" height="1" color-interpolation-filters="sRGB"><feTurbulence type="fractalNoise" baseFrequency="0.05 0.18" numOctaves="4" seed="7" result="n"/><feColorMatrix in="n" type="matrix" values="0 0 0 0 0  0 0 0 0 0  0 0 0 0 0  1 0 0 0 0" result="a"/><feDiffuseLighting in="a" surfaceScale="7" diffuseConstant="0.707" lighting-color="#ffffff" result="L"><feDistantLight azimuth="0" elevation="35"/></feDiffuseLighting><feComponentTransfer in="L"><feFuncR type="linear" slope="1.1" intercept="-0.050000000000000044"/><feFuncG type="linear" slope="1.1" intercept="-0.050000000000000044"/><feFuncB type="linear" slope="1.1" intercept="-0.050000000000000044"/><feFuncA type="linear" slope="0" intercept="1"/></feComponentTransfer></filter><clipPath id="clip_a02"><rect x="184.5" y="32.5" width="70.5" height="72.5"/></clipPath><filter id="map_a02" x="0" y="0" width="1" height="1" color-interpolation-filters="sRGB"><feComponentTransfer in="SourceGraphic"><feFuncR type="table" tableValues="0.000 0.031 0.063 0.094 0.125 0.163 0.201 0.238 0.276 0.313 0.347 0.381 0.416 0.450 0.482 0.512 0.541 0.571 0.600 0.626 0.651 0.675 0.700 0.725 0.744 0.762 0.780 0.798 0.816 0.830 0.845 0.860 0.875 0.890 0.908 0.925 0.943 0.961 0.975 0.987 1.000"/><feFuncG type="table" tableValues="0.000 0.003 0.006 0.009 0.012 0.022 0.033 0.044 0.054 0.069 0.098 0.127 0.157 0.186 0.219 0.257 0.294 0.332 0.369 0.405 0.439 0.474 0.508 0.542 0.571 0.599 0.627 0.655 0.682 0.708 0.735 0.761 0.787 0.814 0.842 0.871 0.899 0.928 0.952 0.976 1.000"/><feFuncB type="table" tableValues="0.000 0.000 0.000 0.000 0.000 0.002 0.003 0.005 0.007 0.009 0.016 0.022 0.029 0.035 0.045 0.060 0.075 0.089 0.104 0.123 0.145 0.167 0.189 0.211 0.242 0.276 0.309 0.343 0.376 0.421 0.465 0.509 0.553 0.599 0.655 0.710 0.765 0.820 0.880 0.940 1.000"/><feFuncA type="linear" slope="0" intercept="1"/></feComponentTransfer></filter><filter id="rel_a02" x="0" y="0" width="1" height="1" color-interpolation-filters="sRGB"><feTurbulence type="fractalNoise" baseFrequency="0.08 0.2" numOctaves="4" seed="11" result="n"/><feColorMatrix in="n" type="matrix" values="0 0 0 0 0  0 0 0 0 0  0 0 0 0 0  1 0 0 0 0" result="a"/><feDiffuseLighting in="a" surfaceScale="5" diffuseConstant="0.707" lighting-color="#ffffff" result="L"><feDistantLight azimuth="0" elevation="45"/></feDiffuseLighting><feComponentTransfer in="L"><feFuncR type="linear" slope="1.0" intercept="0.0"/><feFuncG type="linear" slope="1.0" intercept="0.0"/><feFuncB type="linear" slope="1.0" intercept="0.0"/><feFuncA type="linear" slope="0" intercept="1"/></feComponentTransfer></filter><clipPath id="clip_a10"><rect x="37" y="108" width="70.5" height="69.5"/></clipPath><filter id="map_a10" x="0" y="0" width="1" height="1" color-interpolation-filters="sRGB"><feComponentTransfer in="SourceGraphic"><feFuncR type="table" tableValues="0.000 0.031 0.063 0.094 0.125 0.163 0.201 0.238 0.276 0.313 0.347 0.381 0.416 0.450 0.482 0.512 0.541 0.571 0.600 0.626 0.651 0.675 0.700 0.725 0.744 0.762 0.780 0.798 0.816 0.830 0.845 0.860 0.875 0.890 0.908 0.925 0.943 0.961 0.975 0.987 1.000"/><feFuncG type="table" tableValues="0.000 0.003 0.006 0.009 0.012 0.022 0.033 0.044 0.054 0.069 0.098 0.127 0.157 0.186 0.219 0.257 0.294 0.332 0.369 0.405 0.439 0.474 0.508 0.542 0.571 0.599 0.627 0.655 0.682 0.708 0.735 0.761 0.787 0.814 0.842 0.871 0.899 0.928 0.952 0.976 1.000"/><feFuncB type="table" tableValues="0.000 0.000 0.000 0.000 0.000 0.002 0.003 0.005 0.007 0.009 0.016 0.022 0.029 0.035 0.045 0.060 0.075 0.089 0.104 0.123 0.145 0.167 0.189 0.211 0.242 0.276 0.309 0.343 0.376 0.421 0.465 0.509 0.553 0.599 0.655 0.710 0.765 0.820 0.880 0.940 1.000"/><feFuncA type="linear" slope="0" intercept="1"/></feComponentTransfer></filter><filter id="rel_a10" x="0" y="0" width="1" height="1" color-interpolation-filters="sRGB"><feTurbulence type="fractalNoise" baseFrequency="0.2" numOctaves="3" seed="4" result="n"/><feColorMatrix in="n" type="matrix" values="1.2 0 0 0 -0.09999999999999998  1.2 0 0 0 -0.09999999999999998  1.2 0 0 0 -0.09999999999999998  0 0 0 0 1"/></filter><clipPath id="clip_a11"><rect x="110.5" y="108" width="71.5" height="69.5"/></clipPath><filter id="map_a11" x="0" y="0" width="1" height="1" color-interpolation-filters="sRGB"><feComponentTransfer in="SourceGraphic"><feFuncR type="table" tableValues="0.000 0.031 0.063 0.094 0.125 0.163 0.201 0.238 0.276 0.313 0.347 0.381 0.416 0.450 0.482 0.512 0.541 0.571 0.600 0.626 0.651 0.675 0.700 0.725 0.744 0.762 0.780 0.798 0.816 0.830 0.845 0.860 0.875 0.890 0.908 0.925 0.943 0.961 0.975 0.987 1.000"/><feFuncG type="table" tableValues="0.000 0.003 0.006 0.009 0.012 0.022 0.033 0.044 0.054 0.069 0.098 0.127 0.157 0.186 0.219 0.257 0.294 0.332 0.369 0.405 0.439 0.474 0.508 0.542 0.571 0.599 0.627 0.655 0.682 0.708 0.735 0.761 0.787 0.814 0.842 0.871 0.899 0.928 0.952 0.976 1.000"/><feFuncB type="table" tableValues="0.000 0.000 0.000 0.000 0.000 0.002 0.003 0.005 0.007 0.009 0.016 0.022 0.029 0.035 0.045 0.060 0.075 0.089 0.104 0.123 0.145 0.167 0.189 0.211 0.242 0.276 0.309 0.343 0.376 0.421 0.465 0.509 0.553 0.599 0.655 0.710 0.765 0.820 0.880 0.940 1.000"/><feFuncA type="linear" slope="0" intercept="1"/></feComponentTransfer></filter><filter id="rel_a11" x="0" y="0" width="1" height="1" color-interpolation-filters="sRGB"><feTurbulence type="fractalNoise" baseFrequency="0.2" numOctaves="3" seed="5" result="n"/><feColorMatrix in="n" type="matrix" values="1.2 0 0 0 -0.09999999999999998  1.2 0 0 0 -0.09999999999999998  1.2 0 0 0 -0.09999999999999998  0 0 0 0 1"/></filter><clipPath id="clip_a12"><rect x="184.5" y="108" width="70.5" height="69.5"/></clipPath><filter id="map_a12" x="0" y="0" width="1" height="1" color-interpolation-filters="sRGB"><feComponentTransfer in="SourceGraphic"><feFuncR type="table" tableValues="0.000 0.031 0.063 0.094 0.125 0.163 0.201 0.238 0.276 0.313 0.347 0.381 0.416 0.450 0.482 0.512 0.541 0.571 0.600 0.626 0.651 0.675 0.700 0.725 0.744 0.762 0.780 0.798 0.816 0.830 0.845 0.860 0.875 0.890 0.908 0.925 0.943 0.961 0.975 0.987 1.000"/><feFuncG type="table" tableValues="0.000 0.003 0.006 0.009 0.012 0.022 0.033 0.044 0.054 0.069 0.098 0.127 0.157 0.186 0.219 0.257 0.294 0.332 0.369 0.405 0.439 0.474 0.508 0.542 0.571 0.599 0.627 0.655 0.682 0.708 0.735 0.761 0.787 0.814 0.842 0.871 0.899 0.928 0.952 0.976 1.000"/><feFuncB type="table" tableValues="0.000 0.000 0.000 0.000 0.000 0.002 0.003 0.005 0.007 0.009 0.016 0.022 0.029 0.035 0.045 0.060 0.075 0.089 0.104 0.123 0.145 0.167 0.189 0.211 0.242 0.276 0.309 0.343 0.376 0.421 0.465 0.509 0.553 0.599 0.655 0.710 0.765 0.820 0.880 0.940 1.000"/><feFuncA type="linear" slope="0" intercept="1"/></feComponentTransfer></filter><filter id="rel_a12" x="0" y="0" width="1" height="1" color-interpolation-filters="sRGB"><feTurbulence type="fractalNoise" baseFrequency="0.15" numOctaves="3" seed="6" result="n"/><feColorMatrix in="n" type="matrix" values="1.6 0 0 0 -0.30000000000000004  1.6 0 0 0 -0.30000000000000004  1.6 0 0 0 -0.30000000000000004  0 0 0 0 1"/></filter><clipPath id="clip_c00"><rect x="326.6" y="33.6" width="71.89999999999998" height="72.0"/></clipPath><filter id="map_c00" x="0" y="0" width="1" height="1" color-interpolation-filters="sRGB"><feComponentTransfer in="SourceGraphic"><feFuncR type="table" tableValues="0.000 0.031 0.063 0.094 0.125 0.163 0.201 0.238 0.276 0.313 0.347 0.381 0.416 0.450 0.482 0.512 0.541 0.571 0.600 0.626 0.651 0.675 0.700 0.725 0.744 0.762 0.780 0.798 0.816 0.830 0.845 0.860 0.875 0.890 0.908 0.925 0.943 0.961 0.975 0.987 1.000"/><feFuncG type="table" tableValues="0.000 0.003 0.006 0.009 0.012 0.022 0.033 0.044 0.054 0.069 0.098 0.127 0.157 0.186 0.219 0.257 0.294 0.332 0.369 0.405 0.439 0.474 0.508 0.542 0.571 0.599 0.627 0.655 0.682 0.708 0.735 0.761 0.787 0.814 0.842 0.871 0.899 0.928 0.952 0.976 1.000"/><feFuncB type="table" tableValues="0.000 0.000 0.000 0.000 0.000 0.002 0.003 0.005 0.007 0.009 0.016 0.022 0.029 0.035 0.045 0.060 0.075 0.089 0.104 0.123 0.145 0.167 0.189 0.211 0.242 0.276 0.309 0.343 0.376 0.421 0.465 0.509 0.553 0.599 0.655 0.710 0.765 0.820 0.880 0.940 1.000"/><feFuncA type="linear" slope="0" intercept="1"/></feComponentTransfer></filter><filter id="rel_c00" x="0" y="0" width="1" height="1" color-interpolation-filters="sRGB"><feTurbulence type="fractalNoise" baseFrequency="0.05 0.3" numOctaves="4" seed="8" result="n"/><feColorMatrix in="n" type="matrix" values="0 0 0 0 0  0 0 0 0 0  0 0 0 0 0  1 0 0 0 0" result="a"/><feDiffuseLighting in="a" surfaceScale="5" diffuseConstant="0.707" lighting-color="#ffffff" result="L"><feDistantLight azimuth="0" elevation="45"/></feDiffuseLighting><feComponentTransfer in="L"><feFuncR type="linear" slope="1.0" intercept="0.0"/><feFuncG type="linear" slope="1.0" intercept="0.0"/><feFuncB type="linear" slope="1.0" intercept="0.0"/><feFuncA type="linear" slope="0" intercept="1"/></feComponentTransfer></filter><clipPath id="clip_c01"><rect x="400.6" y="33.6" width="71.0" height="72.0"/></clipPath><filter id="map_c01" x="0" y="0" width="1" height="1" color-interpolation-filters="sRGB"><feComponentTransfer in="SourceGraphic"><feFuncR type="table" tableValues="0.000 0.031 0.063 0.094 0.125 0.163 0.201 0.238 0.276 0.313 0.347 0.381 0.416 0.450 0.482 0.512 0.541 0.571 0.600 0.626 0.651 0.675 0.700 0.725 0.744 0.762 0.780 0.798 0.816 0.830 0.845 0.860 0.875 0.890 0.908 0.925 0.943 0.961 0.975 0.987 1.000"/><feFuncG type="table" tableValues="0.000 0.003 0.006 0.009 0.012 0.022 0.033 0.044 0.054 0.069 0.098 0.127 0.157 0.186 0.219 0.257 0.294 0.332 0.369 0.405 0.439 0.474 0.508 0.542 0.571 0.599 0.627 0.655 0.682 0.708 0.735 0.761 0.787 0.814 0.842 0.871 0.899 0.928 0.952 0.976 1.000"/><feFuncB type="table" tableValues="0.000 0.000 0.000 0.000 0.000 0.002 0.003 0.005 0.007 0.009 0.016 0.022 0.029 0.035 0.045 0.060 0.075 0.089 0.104 0.123 0.145 0.167 0.189 0.211 0.242 0.276 0.309 0.343 0.376 0.421 0.465 0.509 0.553 0.599 0.655 0.710 0.765 0.820 0.880 0.940 1.000"/><feFuncA type="linear" slope="0" intercept="1"/></feComponentTransfer></filter><filter id="rel_c01" x="0" y="0" width="1" height="1" color-interpolation-filters="sRGB"><feTurbulence type="fractalNoise" baseFrequency="0.1 0.14" numOctaves="4" seed="9" result="n"/><feColorMatrix in="n" type="matrix" values="0 0 0 0 0  0 0 0 0 0  0 0 0 0 0  1 0 0 0 0" result="a"/><feDiffuseLighting in="a" surfaceScale="6" diffuseConstant="0.707" lighting-color="#ffffff" result="L"><feDistantLight azimuth="200" elevation="40"/></feDiffuseLighting><feComponentTransfer in="L"><feFuncR type="linear" slope="1.15" intercept="-0.07499999999999996"/><feFuncG type="linear" slope="1.15" intercept="-0.07499999999999996"/><feFuncB type="linear" slope="1.15" intercept="-0.07499999999999996"/><feFuncA type="linear" slope="0" intercept="1"/></feComponentTransfer></filter><clipPath id="clip_c02"><rect x="474" y="33.6" width="69.60000000000002" height="72.0"/></clipPath><filter id="map_c02" x="0" y="0" width="1" height="1" color-interpolation-filters="sRGB"><feComponentTransfer in="SourceGraphic"><feFuncR type="table" tableValues="0.000 0.031 0.063 0.094 0.125 0.163 0.201 0.238 0.276 0.313 0.347 0.381 0.416 0.450 0.482 0.512 0.541 0.571 0.600 0.626 0.651 0.675 0.700 0.725 0.744 0.762 0.780 0.798 0.816 0.830 0.845 0.860 0.875 0.890 0.908 0.925 0.943 0.961 0.975 0.987 1.000"/><feFuncG type="table" tableValues="0.000 0.003 0.006 0.009 0.012 0.022 0.033 0.044 0.054 0.069 0.098 0.127 0.157 0.186 0.219 0.257 0.294 0.332 0.369 0.405 0.439 0.474 0.508 0.542 0.571 0.599 0.627 0.655 0.682 0.708 0.735 0.761 0.787 0.814 0.842 0.871 0.899 0.928 0.952 0.976 1.000"/><feFuncB type="table" tableValues="0.000 0.000 0.000 0.000 0.000 0.002 0.003 0.005 0.007 0.009 0.016 0.022 0.029 0.035 0.045 0.060 0.075 0.089 0.104 0.123 0.145 0.167 0.189 0.211 0.242 0.276 0.309 0.343 0.376 0.421 0.465 0.509 0.553 0.599 0.655 0.710 0.765 0.820 0.880 0.940 1.000"/><feFuncA type="linear" slope="0" intercept="1"/></feComponentTransfer></filter><filter id="rel_c02" x="0" y="0" width="1" height="1" color-interpolation-filters="sRGB"><feTurbulence type="fractalNoise" baseFrequency="0.2 0.3" numOctaves="3" seed="10" result="n"/><feColorMatrix in="n" type="matrix" values="0 0 0 0 0  0 0 0 0 0  0 0 0 0 0  1 0 0 0 0" result="a"/><feDiffuseLighting in="a" surfaceScale="3" diffuseConstant="0.707" lighting-color="#ffffff" result="L"><feDistantLight azimuth="0" elevation="45"/></feDiffuseLighting><feComponentTransfer in="L"><feFuncR type="linear" slope="1.0" intercept="0.0"/><feFuncG type="linear" slope="1.0" intercept="0.0"/><feFuncB type="linear" slope="1.0" intercept="0.0"/><feFuncA type="linear" slope="0" intercept="1"/></feComponentTransfer></filter><clipPath id="clip_c10"><rect x="326.6" y="108.2" width="71.89999999999998" height="68.99999999999999"/></clipPath><filter id="map_c10" x="0" y="0" width="1" height="1" color-interpolation-filters="sRGB"><feComponentTransfer in="SourceGraphic"><feFuncR type="table" tableValues="0.000 0.031 0.063 0.094 0.125 0.163 0.201 0.238 0.276 0.313 0.347 0.381 0.416 0.450 0.482 0.512 0.541 0.571 0.600 0.626 0.651 0.675 0.700 0.725 0.744 0.762 0.780 0.798 0.816 0.830 0.845 0.860 0.875 0.890 0.908 0.925 0.943 0.961 0.975 0.987 1.000"/><feFuncG type="table" tableValues="0.000 0.003 0.006 0.009 0.012 0.022 0.033 0.044 0.054 0.069 0.098 0.127 0.157 0.186 0.219 0.257 0.294 0.332 0.369 0.405 0.439 0.474 0.508 0.542 0.571 0.599 0.627 0.655 0.682 0.708 0.735 0.761 0.787 0.814 0.842 0.871 0.899 0.928 0.952 0.976 1.000"/><feFuncB type="table" tableValues="0.000 0.000 0.000 0.000 0.000 0.002 0.003 0.005 0.007 0.009 0.016 0.022 0.029 0.035 0.045 0.060 0.075 0.089 0.104 0.123 0.145 0.167 0.189 0.211 0.242 0.276 0.309 0.343 0.376 0.421 0.465 0.509 0.553 0.599 0.655 0.710 0.765 0.820 0.880 0.940 1.000"/><feFuncA type="linear" slope="0" intercept="1"/></feComponentTransfer></filter><filter id="rel_c10" x="0" y="0" width="1" height="1" color-interpolation-filters="sRGB"><feTurbulence type="fractalNoise" baseFrequency="0.2" numOctaves="3" seed="12" result="n"/><feColorMatrix in="n" type="matrix" values="1.6 0 0 0 -0.30000000000000004  1.6 0 0 0 -0.30000000000000004  1.6 0 0 0 -0.30000000000000004  0 0 0 0 1"/></filter><clipPath id="clip_c11"><rect x="400.6" y="108.2" width="71.0" height="68.99999999999999"/></clipPath><filter id="map_c11" x="0" y="0" width="1" height="1" color-interpolation-filters="sRGB"><feComponentTransfer in="SourceGraphic"><feFuncR type="table" tableValues="0.000 0.031 0.063 0.094 0.125 0.163 0.201 0.238 0.276 0.313 0.347 0.381 0.416 0.450 0.482 0.512 0.541 0.571 0.600 0.626 0.651 0.675 0.700 0.725 0.744 0.762 0.780 0.798 0.816 0.830 0.845 0.860 0.875 0.890 0.908 0.925 0.943 0.961 0.975 0.987 1.000"/><feFuncG type="table" tableValues="0.000 0.003 0.006 0.009 0.012 0.022 0.033 0.044 0.054 0.069 0.098 0.127 0.157 0.186 0.219 0.257 0.294 0.332 0.369 0.405 0.439 0.474 0.508 0.542 0.571 0.599 0.627 0.655 0.682 0.708 0.735 0.761 0.787 0.814 0.842 0.871 0.899 0.928 0.952 0.976 1.000"/><feFuncB type="table" tableValues="0.000 0.000 0.000 0.000 0.000 0.002 0.003 0.005 0.007 0.009 0.016 0.022 0.029 0.035 0.045 0.060 0.075 0.089 0.104 0.123 0.145 0.167 0.189 0.211 0.242 0.276 0.309 0.343 0.376 0.421 0.465 0.509 0.553 0.599 0.655 0.710 0.765 0.820 0.880 0.940 1.000"/><feFuncA type="linear" slope="0" intercept="1"/></feComponentTransfer></filter><filter id="rel_c11" x="0" y="0" width="1" height="1" color-interpolation-filters="sRGB"><feTurbulence type="fractalNoise" baseFrequency="0.2" numOctaves="3" seed="13" result="n"/><feColorMatrix in="n" type="matrix" values="1.3 0 0 0 -0.15000000000000002  1.3 0 0 0 -0.15000000000000002  1.3 0 0 0 -0.15000000000000002  0 0 0 0 1"/></filter><clipPath id="clip_c12"><rect x="474" y="108.2" width="69.60000000000002" height="68.99999999999999"/></clipPath><filter id="map_c12" x="0" y="0" width="1" height="1" color-interpolation-filters="sRGB"><feComponentTransfer in="SourceGraphic"><feFuncR type="table" tableValues="0.000 0.031 0.063 0.094 0.125 0.163 0.201 0.238 0.276 0.313 0.347 0.381 0.416 0.450 0.482 0.512 0.541 0.571 0.600 0.626 0.651 0.675 0.700 0.725 0.744 0.762 0.780 0.798 0.816 0.830 0.845 0.860 0.875 0.890 0.908 0.925 0.943 0.961 0.975 0.987 1.000"/><feFuncG type="table" tableValues="0.000 0.003 0.006 0.009 0.012 0.022 0.033 0.044 0.054 0.069 0.098 0.127 0.157 0.186 0.219 0.257 0.294 0.332 0.369 0.405 0.439 0.474 0.508 0.542 0.571 0.599 0.627 0.655 0.682 0.708 0.735 0.761 0.787 0.814 0.842 0.871 0.899 0.928 0.952 0.976 1.000"/><feFuncB type="table" tableValues="0.000 0.000 0.000 0.000 0.000 0.002 0.003 0.005 0.007 0.009 0.016 0.022 0.029 0.035 0.045 0.060 0.075 0.089 0.104 0.123 0.145 0.167 0.189 0.211 0.242 0.276 0.309 0.343 0.376 0.421 0.465 0.509 0.553 0.599 0.655 0.710 0.765 0.820 0.880 0.940 1.000"/><feFuncA type="linear" slope="0" intercept="1"/></feComponentTransfer></filter><filter id="rel_c12" x="0" y="0" width="1" height="1" color-interpolation-filters="sRGB"><feTurbulence type="fractalNoise" baseFrequency="0.035 0.16" numOctaves="4" seed="14" result="n"/><feColorMatrix in="n" type="matrix" values="0 0 0 0 0  0 0 0 0 0  0 0 0 0 0  1 0 0 0 0" result="a"/><feDiffuseLighting in="a" surfaceScale="5" diffuseConstant="0.707" lighting-color="#ffffff" result="L"><feDistantLight azimuth="0" elevation="50"/></feDiffuseLighting><feComponentTransfer in="L"><feFuncR type="linear" slope="1.0" intercept="0.0"/><feFuncG type="linear" slope="1.0" intercept="0.0"/><feFuncB type="linear" slope="1.0" intercept="0.0"/><feFuncA type="linear" slope="0" intercept="1"/></feComponentTransfer></filter><linearGradient id="cbar" x1="0" y1="0" x2="1" y2="0"><stop offset="0.0" stop-color="rgb(0, 0, 0)"/><stop offset="0.1" stop-color="rgb(30, 0, 0)"/><stop offset="0.25" stop-color="rgb(85, 6, 0)"/><stop offset="0.38" stop-color="rgb(135, 38, 0)"/><stop offset="0.5" stop-color="rgb(175, 85, 10)"/><stop offset="0.62" stop-color="rgb(202, 138, 32)"/><stop offset="0.74" stop-color="rgb(222, 182, 75)"/><stop offset="0.85" stop-color="rgb(238, 220, 152)"/><stop offset="0.95" stop-color="rgb(252, 248, 230)"/><stop offset="1.0" stop-color="rgb(255, 255, 255)"/></linearGradient></defs>
<text x="88.85" y="196.8" text-anchor="middle" font-family="Liberation Serif, serif" font-weight="bold" font-size="6.8" fill="#000" textLength="51.9" lengthAdjust="spacingAndGlyphs" stroke="#000" stroke-width="0.25">Average Modulus</text>
<line x1="50.1" y1="199" x2="50.1" y2="251.6" stroke="#2a2a2a" stroke-width="0.9"/>
<line x1="50.1" y1="251.6" x2="126.5" y2="251.6" stroke="#2a2a2a" stroke-width="0.9"/>
<line x1="47.9" y1="199" x2="50.1" y2="199" stroke="#2a2a2a" stroke-width="0.7"/>
<text x="47.6" y="200.9" text-anchor="end" font-family="Liberation Serif, serif"  font-size="5.6" fill="#3a3a3a"  stroke="#3a3a3a" stroke-width="0.18">2500</text>
<line x1="47.9" y1="209.5" x2="50.1" y2="209.5" stroke="#2a2a2a" stroke-width="0.7"/>
<text x="47.6" y="211.4" text-anchor="end" font-family="Liberation Serif, serif"  font-size="5.6" fill="#3a3a3a"  stroke="#3a3a3a" stroke-width="0.18">2000</text>
<line x1="47.9" y1="220.1" x2="50.1" y2="220.1" stroke="#2a2a2a" stroke-width="0.7"/>
<text x="47.6" y="222.0" text-anchor="end" font-family="Liberation Serif, serif"  font-size="5.6" fill="#3a3a3a"  stroke="#3a3a3a" stroke-width="0.18">1500</text>
<line x1="47.9" y1="230.6" x2="50.1" y2="230.6" stroke="#2a2a2a" stroke-width="0.7"/>
<text x="47.6" y="232.5" text-anchor="end" font-family="Liberation Serif, serif"  font-size="5.6" fill="#3a3a3a"  stroke="#3a3a3a" stroke-width="0.18">1000</text>
<line x1="47.9" y1="241.1" x2="50.1" y2="241.1" stroke="#2a2a2a" stroke-width="0.7"/>
<text x="47.6" y="243.0" text-anchor="end" font-family="Liberation Serif, serif"  font-size="5.6" fill="#3a3a3a"  stroke="#3a3a3a" stroke-width="0.18">500</text>
<line x1="47.9" y1="251.6" x2="50.1" y2="251.6" stroke="#2a2a2a" stroke-width="0.7"/>
<text x="47.6" y="253.5" text-anchor="end" font-family="Liberation Serif, serif"  font-size="5.6" fill="#3a3a3a"  stroke="#3a3a3a" stroke-width="0.18">0</text>
<line x1="63.15" y1="245.9" x2="63.15" y2="245.2" stroke="#222" stroke-width="0.9"/>
<line x1="58.547999999999995" y1="245.2" x2="67.752" y2="245.2" stroke="#222" stroke-width="0.9"/>
<rect x="54.75" y="246.35" width="16.800000000000004" height="5.2499999999999885" fill="#d6d6d6" stroke="#222" stroke-width="0.9"/>
<line x1="63.15" y1="251.6" x2="63.15" y2="253.2" stroke="#2a2a2a" stroke-width="0.7"/>
<line x1="89.30000000000001" y1="224.6" x2="89.30000000000001" y2="210.7" stroke="#222" stroke-width="0.9"/>
<line x1="84.56800000000001" y1="210.7" x2="94.03200000000001" y2="210.7" stroke="#222" stroke-width="0.9"/>
<rect x="80.65" y="225.04999999999998" width="17.300000000000004" height="26.55" fill="#7f7f7f" stroke="#222" stroke-width="0.9"/>
<line x1="89.30000000000001" y1="251.6" x2="89.30000000000001" y2="253.2" stroke="#2a2a2a" stroke-width="0.7"/>
<line x1="115.45" y1="234.7" x2="115.45" y2="221.9" stroke="#222" stroke-width="0.9"/>
<line x1="110.744" y1="221.9" x2="120.156" y2="221.9" stroke="#222" stroke-width="0.9"/>
<rect x="106.85000000000001" y="235.14999999999998" width="17.199999999999996" height="16.450000000000006" fill="#000" stroke="#222" stroke-width="0.9"/>
<line x1="115.45" y1="251.6" x2="115.45" y2="253.2" stroke="#2a2a2a" stroke-width="0.7"/>
<text x="63.25" y="258.2" text-anchor="middle" font-family="Liberation Serif, serif" font-weight="bold" font-size="5.8" fill="#000" textLength="18.5" lengthAdjust="spacingAndGlyphs" stroke="#000" stroke-width="0.1">1 month</text>
<text x="89.19999999999999" y="258.2" text-anchor="middle" font-family="Liberation Serif, serif" font-weight="bold" font-size="5.8" fill="#000" textLength="21.200000000000003" lengthAdjust="spacingAndGlyphs" stroke="#000" stroke-width="0.1">2 months</text>
<text x="115.35" y="258.2" text-anchor="middle" font-family="Liberation Serif, serif" font-weight="bold" font-size="5.8" fill="#000" textLength="22.89999999999999" lengthAdjust="spacingAndGlyphs" stroke="#000" stroke-width="0.1">20 months</text>
<text transform="translate(34.4,223.8) rotate(-90)" text-anchor="middle" font-family="Liberation Serif, serif" font-weight="bold" font-size="6.8" fill="#000" textLength="9.5" lengthAdjust="spacingAndGlyphs" stroke="#000" stroke-width="0.1">kPa</text>
<text x="199.45" y="196.2" text-anchor="middle" font-family="Liberation Serif, serif" font-weight="bold" font-size="6.8" fill="#000" textLength="58.29999999999998" lengthAdjust="spacingAndGlyphs" stroke="#000" stroke-width="0.25">Average Roughness</text>
<line x1="159.6" y1="198.7" x2="159.6" y2="251.2" stroke="#2a2a2a" stroke-width="0.9"/>
<line x1="159.6" y1="251.2" x2="238" y2="251.2" stroke="#2a2a2a" stroke-width="0.9"/>
<line x1="157.4" y1="198.7" x2="159.6" y2="198.7" stroke="#2a2a2a" stroke-width="0.7"/>
<text x="157.1" y="200.6" text-anchor="end" font-family="Liberation Serif, serif"  font-size="5.6" fill="#3a3a3a"  stroke="#3a3a3a" stroke-width="0.18">150</text>
<line x1="157.4" y1="216.2" x2="159.6" y2="216.2" stroke="#2a2a2a" stroke-width="0.7"/>
<text x="157.1" y="218.1" text-anchor="end" font-family="Liberation Serif, serif"  font-size="5.6" fill="#3a3a3a"  stroke="#3a3a3a" stroke-width="0.18">100</text>
<line x1="157.4" y1="233.7" x2="159.6" y2="233.7" stroke="#2a2a2a" stroke-width="0.7"/>
<text x="157.1" y="235.6" text-anchor="end" font-family="Liberation Serif, serif"  font-size="5.6" fill="#3a3a3a"  stroke="#3a3a3a" stroke-width="0.18">50</text>
<line x1="157.4" y1="251.2" x2="159.6" y2="251.2" stroke="#2a2a2a" stroke-width="0.7"/>
<text x="157.1" y="253.1" text-anchor="end" font-family="Liberation Serif, serif"  font-size="5.6" fill="#3a3a3a"  stroke="#3a3a3a" stroke-width="0.18">0</text>
<line x1="173.2" y1="216.8" x2="173.2" y2="205.5" stroke="#222" stroke-width="0.9"/>
<line x1="168.468" y1="205.5" x2="177.932" y2="205.5" stroke="#222" stroke-width="0.9"/>
<rect x="164.54999999999998" y="217.25" width="17.30000000000002" height="33.949999999999974" fill="#d6d6d6" stroke="#222" stroke-width="0.9"/>
<line x1="173.2" y1="251.2" x2="173.2" y2="252.79999999999998" stroke="#2a2a2a" stroke-width="0.7"/>
<line x1="199.6" y1="227.7" x2="199.6" y2="218.5" stroke="#222" stroke-width="0.9"/>
<line x1="194.868" y1="218.5" x2="204.332" y2="218.5" stroke="#222" stroke-width="0.9"/>
<rect x="190.95" y="228.14999999999998" width="17.29999999999999" height="23.05" fill="#7f7f7f" stroke="#222" stroke-width="0.9"/>
<line x1="199.6" y1="251.2" x2="199.6" y2="252.79999999999998" stroke="#2a2a2a" stroke-width="0.7"/>
<line x1="226.0" y1="236.4" x2="226.0" y2="232.7" stroke="#222" stroke-width="0.9"/>
<line x1="221.164" y1="232.7" x2="230.836" y2="232.7" stroke="#222" stroke-width="0.9"/>
<rect x="217.14999999999998" y="236.85" width="17.700000000000024" height="14.349999999999984" fill="#000" stroke="#222" stroke-width="0.9"/>
<line x1="226.0" y1="251.2" x2="226.0" y2="252.79999999999998" stroke="#2a2a2a" stroke-width="0.7"/>
<text x="173.15" y="258.6" text-anchor="middle" font-family="Liberation Serif, serif" font-weight="bold" font-size="5.8" fill="#000" textLength="19.30000000000001" lengthAdjust="spacingAndGlyphs" stroke="#000" stroke-width="0.1">1 month</text>
<text x="200.14999999999998" y="258.6" text-anchor="middle" font-family="Liberation Serif, serif" font-weight="bold" font-size="5.8" fill="#000" textLength="20.900000000000006" lengthAdjust="spacingAndGlyphs" stroke="#000" stroke-width="0.1">2 months</text>
<text x="226.2" y="258.6" text-anchor="middle" font-family="Liberation Serif, serif" font-weight="bold" font-size="5.8" fill="#000" textLength="23.599999999999994" lengthAdjust="spacingAndGlyphs" stroke="#000" stroke-width="0.1">20 months</text>
<text transform="translate(147.1,223.9) rotate(-90)" text-anchor="middle" font-family="Liberation Serif, serif" font-weight="bold" font-size="6.8" fill="#000" textLength="20.6" lengthAdjust="spacingAndGlyphs" stroke="#000" stroke-width="0.1">Ra (nm)</text>
<text x="388.9" y="194.4" text-anchor="middle" font-family="Liberation Serif, serif" font-weight="bold" font-size="6.8" fill="#000" textLength="53.0" lengthAdjust="spacingAndGlyphs" stroke="#000" stroke-width="0.25">Average Modulus</text>
<line x1="348.5" y1="196.6" x2="348.5" y2="250.0" stroke="#2a2a2a" stroke-width="0.9"/>
<line x1="348.5" y1="250.0" x2="427.8" y2="250.0" stroke="#2a2a2a" stroke-width="0.9"/>
<line x1="346.3" y1="196.6" x2="348.5" y2="196.6" stroke="#2a2a2a" stroke-width="0.7"/>
<text x="346.0" y="198.5" text-anchor="end" font-family="Liberation Serif, serif"  font-size="5.6" fill="#3a3a3a"  stroke="#3a3a3a" stroke-width="0.18">1500</text>
<line x1="346.3" y1="214.4" x2="348.5" y2="214.4" stroke="#2a2a2a" stroke-width="0.7"/>
<text x="346.0" y="216.3" text-anchor="end" font-family="Liberation Serif, serif"  font-size="5.6" fill="#3a3a3a"  stroke="#3a3a3a" stroke-width="0.18">1000</text>
<line x1="346.3" y1="232.2" x2="348.5" y2="232.2" stroke="#2a2a2a" stroke-width="0.7"/>
<text x="346.0" y="234.1" text-anchor="end" font-family="Liberation Serif, serif"  font-size="5.6" fill="#3a3a3a"  stroke="#3a3a3a" stroke-width="0.18">500</text>
<line x1="346.3" y1="250.0" x2="348.5" y2="250.0" stroke="#2a2a2a" stroke-width="0.7"/>
<text x="346.0" y="251.9" text-anchor="end" font-family="Liberation Serif, serif"  font-size="5.6" fill="#3a3a3a"  stroke="#3a3a3a" stroke-width="0.18">0</text>
<line x1="362.2" y1="243.7" x2="362.2" y2="243.2" stroke="#222" stroke-width="0.9"/>
<line x1="357.52" y1="243.2" x2="366.88" y2="243.2" stroke="#222" stroke-width="0.9"/>
<rect x="353.65" y="244.14999999999998" width="17.1" height="5.850000000000011" fill="#d6d6d6" stroke="#222" stroke-width="0.9"/>
<line x1="362.2" y1="250.0" x2="362.2" y2="251.6" stroke="#2a2a2a" stroke-width="0.7"/>
<line x1="388.9" y1="236.3" x2="388.9" y2="233.1" stroke="#222" stroke-width="0.9"/>
<line x1="384.116" y1="233.1" x2="393.68399999999997" y2="233.1" stroke="#222" stroke-width="0.9"/>
<rect x="380.15" y="236.75" width="17.500000000000036" height="13.24999999999999" fill="#7f7f7f" stroke="#222" stroke-width="0.9"/>
<line x1="388.9" y1="250.0" x2="388.9" y2="251.6" stroke="#2a2a2a" stroke-width="0.7"/>
<line x1="415.8" y1="226.6" x2="415.8" y2="213.4" stroke="#222" stroke-width="0.9"/>
<line x1="411.016" y1="213.4" x2="420.584" y2="213.4" stroke="#222" stroke-width="0.9"/>
<rect x="407.05" y="227.04999999999998" width="17.49999999999998" height="22.950000000000006" fill="#000" stroke="#222" stroke-width="0.9"/>
<line x1="415.8" y1="250.0" x2="415.8" y2="251.6" stroke="#2a2a2a" stroke-width="0.7"/>
<text x="362.85" y="257.4" text-anchor="middle" font-family="Liberation Serif, serif" font-weight="bold" font-size="5.8" fill="#000" textLength="19.30000000000001" lengthAdjust="spacingAndGlyphs" stroke="#000" stroke-width="0.1">1 month</text>
<text x="389.20000000000005" y="257.4" text-anchor="middle" font-family="Liberation Serif, serif" font-weight="bold" font-size="5.8" fill="#000" textLength="21.19999999999999" lengthAdjust="spacingAndGlyphs" stroke="#000" stroke-width="0.1">2 months</text>
<text x="415.35" y="257.4" text-anchor="middle" font-family="Liberation Serif, serif" font-weight="bold" font-size="5.8" fill="#000" textLength="22.900000000000034" lengthAdjust="spacingAndGlyphs" stroke="#000" stroke-width="0.1">20 months</text>
<text transform="translate(334.4,220.6) rotate(-90)" text-anchor="middle" font-family="Liberation Serif, serif" font-weight="bold" font-size="6.8" fill="#000" textLength="9.5" lengthAdjust="spacingAndGlyphs" stroke="#000" stroke-width="0.1">kPa</text>
<text x="503.65000000000003" y="193.9" text-anchor="middle" font-family="Liberation Serif, serif" font-weight="bold" font-size="6.8" fill="#000" textLength="61.10000000000002" lengthAdjust="spacingAndGlyphs" stroke="#000" stroke-width="0.25">Average Roughness</text>
<line x1="462.9" y1="196.6" x2="462.9" y2="251.4" stroke="#2a2a2a" stroke-width="0.9"/>
<line x1="462.9" y1="251.4" x2="543.8" y2="251.4" stroke="#2a2a2a" stroke-width="0.9"/>
<line x1="460.7" y1="196.6" x2="462.9" y2="196.6" stroke="#2a2a2a" stroke-width="0.7"/>
<text x="460.4" y="198.5" text-anchor="end" font-family="Liberation Serif, serif"  font-size="5.6" fill="#3a3a3a"  stroke="#3a3a3a" stroke-width="0.18">150</text>
<line x1="460.7" y1="214.4" x2="462.9" y2="214.4" stroke="#2a2a2a" stroke-width="0.7"/>
<text x="460.4" y="216.3" text-anchor="end" font-family="Liberation Serif, serif"  font-size="5.6" fill="#3a3a3a"  stroke="#3a3a3a" stroke-width="0.18">100</text>
<line x1="460.7" y1="232.8" x2="462.9" y2="232.8" stroke="#2a2a2a" stroke-width="0.7"/>
<text x="460.4" y="234.70000000000002" text-anchor="end" font-family="Liberation Serif, serif"  font-size="5.6" fill="#3a3a3a"  stroke="#3a3a3a" stroke-width="0.18">50</text>
<line x1="460.7" y1="251.4" x2="462.9" y2="251.4" stroke="#2a2a2a" stroke-width="0.7"/>
<text x="460.4" y="253.3" text-anchor="end" font-family="Liberation Serif, serif"  font-size="5.6" fill="#3a3a3a"  stroke="#3a3a3a" stroke-width="0.18">0</text>
<rect x="467.45" y="230.35" width="18.1" height="21.05" fill="#d6d6d6" stroke="#222" stroke-width="0.9"/>
<line x1="476.5" y1="251.4" x2="476.5" y2="253.0" stroke="#2a2a2a" stroke-width="0.7"/>
<line x1="503.35" y1="228.4" x2="503.35" y2="225.5" stroke="#222" stroke-width="0.9"/>
<line x1="498.384" y1="225.5" x2="508.31600000000003" y2="225.5" stroke="#222" stroke-width="0.9"/>
<rect x="494.25" y="228.85" width="18.199999999999967" height="22.55" fill="#7f7f7f" stroke="#222" stroke-width="0.9"/>
<line x1="503.35" y1="251.4" x2="503.35" y2="253.0" stroke="#2a2a2a" stroke-width="0.7"/>
<line x1="531.1" y1="217.3" x2="531.1" y2="209.6" stroke="#222" stroke-width="0.9"/>
<line x1="526.1080000000001" y1="209.6" x2="536.092" y2="209.6" stroke="#222" stroke-width="0.9"/>
<rect x="521.95" y="217.75" width="18.300000000000047" height="33.64999999999999" fill="#000" stroke="#222" stroke-width="0.9"/>
<line x1="531.1" y1="251.4" x2="531.1" y2="253.0" stroke="#2a2a2a" stroke-width="0.7"/>
<text x="476.2" y="258.2" text-anchor="middle" font-family="Liberation Serif, serif" font-weight="bold" font-size="5.8" fill="#000" textLength="19.399999999999977" lengthAdjust="spacingAndGlyphs" stroke="#000" stroke-width="0.1">1 month</text>
<text x="503.35" y="258.2" text-anchor="middle" font-family="Liberation Serif, serif" font-weight="bold" font-size="5.8" fill="#000" textLength="21.30000000000001" lengthAdjust="spacingAndGlyphs" stroke="#000" stroke-width="0.1">2 months</text>
<text x="530.2" y="258.2" text-anchor="middle" font-family="Liberation Serif, serif" font-weight="bold" font-size="5.8" fill="#000" textLength="23.199999999999932" lengthAdjust="spacingAndGlyphs" stroke="#000" stroke-width="0.1">20 months</text>
<text transform="translate(449.6,222.2) rotate(-90)" text-anchor="middle" font-family="Liberation Serif, serif" font-weight="bold" font-size="6.8" fill="#000" textLength="21.8" lengthAdjust="spacingAndGlyphs" stroke="#000" stroke-width="0.1">Ra (nm)</text>
<text x="89.8" y="269.9" text-anchor="middle" font-family="Liberation Serif, serif" font-weight="bold" font-size="6.8" fill="#000" textLength="64.4" lengthAdjust="spacingAndGlyphs" stroke="#000" stroke-width="0.25">Modulus Distribution</text>
<line x1="49.8" y1="273.1" x2="49.8" y2="325.8" stroke="#2a2a2a" stroke-width="0.9"/>
<line x1="49.8" y1="325.8" x2="129.5" y2="325.8" stroke="#2a2a2a" stroke-width="0.9"/>
<line x1="47.599999999999994" y1="273.1" x2="49.8" y2="273.1" stroke="#2a2a2a" stroke-width="0.7"/>
<text x="47.3" y="275.0" text-anchor="end" font-family="Liberation Serif, serif"  font-size="5.6" fill="#3a3a3a"  stroke="#3a3a3a" stroke-width="0.18">40</text>
<line x1="47.599999999999994" y1="286.3" x2="49.8" y2="286.3" stroke="#2a2a2a" stroke-width="0.7"/>
<text x="47.3" y="288.2" text-anchor="end" font-family="Liberation Serif, serif"  font-size="5.6" fill="#3a3a3a"  stroke="#3a3a3a" stroke-width="0.18">30</text>
<line x1="47.599999999999994" y1="299.6" x2="49.8" y2="299.6" stroke="#2a2a2a" stroke-width="0.7"/>
<text x="47.3" y="301.5" text-anchor="end" font-family="Liberation Serif, serif"  font-size="5.6" fill="#3a3a3a"  stroke="#3a3a3a" stroke-width="0.18">20</text>
<line x1="47.599999999999994" y1="313" x2="49.8" y2="313" stroke="#2a2a2a" stroke-width="0.7"/>
<text x="47.3" y="314.9" text-anchor="end" font-family="Liberation Serif, serif"  font-size="5.6" fill="#3a3a3a"  stroke="#3a3a3a" stroke-width="0.18">10</text>
<line x1="47.599999999999994" y1="325.8" x2="49.8" y2="325.8" stroke="#2a2a2a" stroke-width="0.7"/>
<text x="47.3" y="327.7" text-anchor="end" font-family="Liberation Serif, serif"  font-size="5.6" fill="#3a3a3a"  stroke="#3a3a3a" stroke-width="0.18">0</text>
<line x1="49.8" y1="325.8" x2="49.8" y2="327.8" stroke="#2a2a2a" stroke-width="0.7"/>
<text x="49.8" y="334.3" text-anchor="middle" font-family="Liberation Serif, serif"  font-size="5.6" fill="#3a3a3a"  stroke="#3a3a3a" stroke-width="0.18">0</text>
<line x1="65.5" y1="325.8" x2="65.5" y2="327.8" stroke="#2a2a2a" stroke-width="0.7"/>
<text x="65.5" y="334.3" text-anchor="middle" font-family="Liberation Serif, serif"  font-size="5.6" fill="#3a3a3a"  stroke="#3a3a3a" stroke-width="0.18">200</text>
<line x1="81.2" y1="325.8" x2="81.2" y2="327.8" stroke="#2a2a2a" stroke-width="0.7"/>
<text x="81.2" y="334.3" text-anchor="middle" font-family="Liberation Serif, serif"  font-size="5.6" fill="#3a3a3a"  stroke="#3a3a3a" stroke-width="0.18">400</text>
<line x1="97.3" y1="325.8" x2="97.3" y2="327.8" stroke="#2a2a2a" stroke-width="0.7"/>
<text x="97.3" y="334.3" text-anchor="middle" font-family="Liberation Serif, serif"  font-size="5.6" fill="#3a3a3a"  stroke="#3a3a3a" stroke-width="0.18">600</text>
<line x1="113.5" y1="325.8" x2="113.5" y2="327.8" stroke="#2a2a2a" stroke-width="0.7"/>
<text x="113.5" y="334.3" text-anchor="middle" font-family="Liberation Serif, serif"  font-size="5.6" fill="#3a3a3a"  stroke="#3a3a3a" stroke-width="0.18">800</text>
<line x1="129.5" y1="325.8" x2="129.5" y2="327.8" stroke="#2a2a2a" stroke-width="0.7"/>
<text x="129.5" y="334.3" text-anchor="middle" font-family="Liberation Serif, serif"  font-size="5.6" fill="#3a3a3a"  stroke="#3a3a3a" stroke-width="0.18">1000</text>
<path d="M55.0,325.5 L57.9,313.8 L62.2,301.8 L67.0,298.4 L72.5,307.0 L78.5,319.0 L84.5,325.3 L129.5,325.6" fill="none" stroke="#d0d0d0" stroke-width="1.6" stroke-linejoin="round" stroke-linecap="round"/>
<path d="M49.8,325.8 L53.6,324.5 L62.2,321.5 L69.0,317.3 L75.0,313.8 L81.5,311.3 L86.2,313.3 L90.0,313.9 L95.5,317.4 L101.6,320.5 L107.8,322.8 L114.0,324.4 L129.5,325.5" fill="none" stroke="#808080" stroke-width="1.6" stroke-linejoin="round" stroke-linecap="round"/>
<path d="M49.8,325.8 L53.6,323.3 L57.9,300.9 L61.8,285.6 L66.5,303.5 L70.4,316.0 L74.2,320.7 L82.8,322.4 L93.1,324.6 L129.5,325.6" fill="none" stroke="#000" stroke-width="2.0" stroke-linejoin="round" stroke-linecap="round"/>
<text x="89.9" y="342.6" text-anchor="middle" font-family="Liberation Serif, serif" font-weight="bold" font-size="6.6" fill="#000" textLength="10.200000000000003" lengthAdjust="spacingAndGlyphs" stroke="#000" stroke-width="0.12">kPa</text>
<text transform="translate(38.199999999999996,299.4) rotate(-90)" text-anchor="middle" font-family="Liberation Serif, serif"  font-size="6" fill="#333"  >%</text>
<text x="198.4" y="270.5" text-anchor="middle" font-family="Liberation Serif, serif" font-weight="bold" font-size="6.8" fill="#000" textLength="57.0" lengthAdjust="spacingAndGlyphs" stroke="#000" stroke-width="0.25">Height Distribution</text>
<line x1="158.7" y1="273.2" x2="158.7" y2="325.4" stroke="#2a2a2a" stroke-width="0.9"/>
<line x1="158.7" y1="325.4" x2="236" y2="325.4" stroke="#2a2a2a" stroke-width="0.9"/>
<line x1="156.5" y1="273.2" x2="158.7" y2="273.2" stroke="#2a2a2a" stroke-width="0.7"/>
<text x="156.2" y="275.09999999999997" text-anchor="end" font-family="Liberation Serif, serif"  font-size="5.6" fill="#3a3a3a"  stroke="#3a3a3a" stroke-width="0.18">50</text>
<line x1="156.5" y1="283.7" x2="158.7" y2="283.7" stroke="#2a2a2a" stroke-width="0.7"/>
<text x="156.2" y="285.59999999999997" text-anchor="end" font-family="Liberation Serif, serif"  font-size="5.6" fill="#3a3a3a"  stroke="#3a3a3a" stroke-width="0.18">40</text>
<line x1="156.5" y1="294.2" x2="158.7" y2="294.2" stroke="#2a2a2a" stroke-width="0.7"/>
<text x="156.2" y="296.09999999999997" text-anchor="end" font-family="Liberation Serif, serif"  font-size="5.6" fill="#3a3a3a"  stroke="#3a3a3a" stroke-width="0.18">30</text>
<line x1="156.5" y1="304.7" x2="158.7" y2="304.7" stroke="#2a2a2a" stroke-width="0.7"/>
<text x="156.2" y="306.59999999999997" text-anchor="end" font-family="Liberation Serif, serif"  font-size="5.6" fill="#3a3a3a"  stroke="#3a3a3a" stroke-width="0.18">20</text>
<line x1="156.5" y1="315.1" x2="158.7" y2="315.1" stroke="#2a2a2a" stroke-width="0.7"/>
<text x="156.2" y="317.0" text-anchor="end" font-family="Liberation Serif, serif"  font-size="5.6" fill="#3a3a3a"  stroke="#3a3a3a" stroke-width="0.18">10</text>
<line x1="156.5" y1="325.4" x2="158.7" y2="325.4" stroke="#2a2a2a" stroke-width="0.7"/>
<text x="156.2" y="327.29999999999995" text-anchor="end" font-family="Liberation Serif, serif"  font-size="5.6" fill="#3a3a3a"  stroke="#3a3a3a" stroke-width="0.18">0</text>
<line x1="158.7" y1="325.4" x2="158.7" y2="327.4" stroke="#2a2a2a" stroke-width="0.7"/>
<text x="158.7" y="333.9" text-anchor="middle" font-family="Liberation Serif, serif"  font-size="5.6" fill="#3a3a3a"  stroke="#3a3a3a" stroke-width="0.18">0</text>
<line x1="174.2" y1="325.4" x2="174.2" y2="327.4" stroke="#2a2a2a" stroke-width="0.7"/>
<text x="174.2" y="333.9" text-anchor="middle" font-family="Liberation Serif, serif"  font-size="5.6" fill="#3a3a3a"  stroke="#3a3a3a" stroke-width="0.18">20</text>
<line x1="189.7" y1="325.4" x2="189.7" y2="327.4" stroke="#2a2a2a" stroke-width="0.7"/>
<text x="189.7" y="333.9" text-anchor="middle" font-family="Liberation Serif, serif"  font-size="5.6" fill="#3a3a3a"  stroke="#3a3a3a" stroke-width="0.18">40</text>
<line x1="205.1" y1="325.4" x2="205.1" y2="327.4" stroke="#2a2a2a" stroke-width="0.7"/>
<text x="205.1" y="333.9" text-anchor="middle" font-family="Liberation Serif, serif"  font-size="5.6" fill="#3a3a3a"  stroke="#3a3a3a" stroke-width="0.18">60</text>
<line x1="220.5" y1="325.4" x2="220.5" y2="327.4" stroke="#2a2a2a" stroke-width="0.7"/>
<text x="220.5" y="333.9" text-anchor="middle" font-family="Liberation Serif, serif"  font-size="5.6" fill="#3a3a3a"  stroke="#3a3a3a" stroke-width="0.18">80</text>
<line x1="236" y1="325.4" x2="236" y2="327.4" stroke="#2a2a2a" stroke-width="0.7"/>
<text x="236" y="333.9" text-anchor="middle" font-family="Liberation Serif, serif"  font-size="5.6" fill="#3a3a3a"  stroke="#3a3a3a" stroke-width="0.18">100</text>
<path d="M158.7,325.4 L190.8,325.1 L197.6,322.4 L201.1,316.4 L203.7,304.4 L205.9,277.0 L208.0,300.9 L210.5,313.8 L214.8,320.7 L220.0,324.1 L236.0,325.4" fill="none" stroke="#d0d0d0" stroke-width="1.6" stroke-linejoin="round" stroke-linecap="round"/>
<path d="M158.7,325.4 L179.6,324.8 L183.9,319.0 L187.3,309.5 L189.9,300.9 L193.9,296.6 L197.6,306.9 L201.1,315.5 L205.4,321.5 L208.8,324.6 L236.0,325.4" fill="none" stroke="#808080" stroke-width="1.6" stroke-linejoin="round" stroke-linecap="round"/>
<path d="M158.7,325.4 L173.6,325.3 L176.2,321.5 L178.7,313.0 L181.3,299.2 L183.0,290.3 L186.5,284.8 L188.2,295.8 L189.9,308.7 L192.5,317.3 L195.9,322.4 L201.9,324.6 L236.0,325.4" fill="none" stroke="#000" stroke-width="2.0" stroke-linejoin="round" stroke-linecap="round"/>
<text x="198.15" y="341.6" text-anchor="middle" font-family="Liberation Serif, serif" font-weight="bold" font-size="5.8" fill="#000" textLength="57.69999999999999" lengthAdjust="spacingAndGlyphs" stroke="#000" stroke-width="0.12">% of maximum height</text>
<text transform="translate(148.20000000000002,298.2) rotate(-90)" text-anchor="middle" font-family="Liberation Serif, serif"  font-size="6" fill="#333"  >%</text>
<text x="387.95000000000005" y="269.2" text-anchor="middle" font-family="Liberation Serif, serif" font-weight="bold" font-size="6.8" fill="#000" textLength="63.69999999999999" lengthAdjust="spacingAndGlyphs" stroke="#000" stroke-width="0.25">Modulus Distribution</text>
<line x1="348.5" y1="272.9" x2="348.5" y2="325.1" stroke="#2a2a2a" stroke-width="0.9"/>
<line x1="348.5" y1="325.1" x2="427.5" y2="325.1" stroke="#2a2a2a" stroke-width="0.9"/>
<line x1="346.3" y1="272.9" x2="348.5" y2="272.9" stroke="#2a2a2a" stroke-width="0.7"/>
<text x="346.0" y="274.79999999999995" text-anchor="end" font-family="Liberation Serif, serif"  font-size="5.6" fill="#3a3a3a"  stroke="#3a3a3a" stroke-width="0.18">60</text>
<line x1="346.3" y1="290.4" x2="348.5" y2="290.4" stroke="#2a2a2a" stroke-width="0.7"/>
<text x="346.0" y="292.29999999999995" text-anchor="end" font-family="Liberation Serif, serif"  font-size="5.6" fill="#3a3a3a"  stroke="#3a3a3a" stroke-width="0.18">40</text>
<line x1="346.3" y1="307.8" x2="348.5" y2="307.8" stroke="#2a2a2a" stroke-width="0.7"/>
<text x="346.0" y="309.7" text-anchor="end" font-family="Liberation Serif, serif"  font-size="5.6" fill="#3a3a3a"  stroke="#3a3a3a" stroke-width="0.18">20</text>
<line x1="346.3" y1="325.1" x2="348.5" y2="325.1" stroke="#2a2a2a" stroke-width="0.7"/>
<text x="346.0" y="327.0" text-anchor="end" font-family="Liberation Serif, serif"  font-size="5.6" fill="#3a3a3a"  stroke="#3a3a3a" stroke-width="0.18">0</text>
<line x1="348.5" y1="325.1" x2="348.5" y2="327.1" stroke="#2a2a2a" stroke-width="0.7"/>
<text x="348.5" y="333.6" text-anchor="middle" font-family="Liberation Serif, serif"  font-size="5.6" fill="#3a3a3a"  stroke="#3a3a3a" stroke-width="0.18">0</text>
<line x1="364.3" y1="325.1" x2="364.3" y2="327.1" stroke="#2a2a2a" stroke-width="0.7"/>
<text x="364.3" y="333.6" text-anchor="middle" font-family="Liberation Serif, serif"  font-size="5.6" fill="#3a3a3a"  stroke="#3a3a3a" stroke-width="0.18">200</text>
<line x1="380.1" y1="325.1" x2="380.1" y2="327.1" stroke="#2a2a2a" stroke-width="0.7"/>
<text x="380.1" y="333.6" text-anchor="middle" font-family="Liberation Serif, serif"  font-size="5.6" fill="#3a3a3a"  stroke="#3a3a3a" stroke-width="0.18">400</text>
<line x1="395.9" y1="325.1" x2="395.9" y2="327.1" stroke="#2a2a2a" stroke-width="0.7"/>
<text x="395.9" y="333.6" text-anchor="middle" font-family="Liberation Serif, serif"  font-size="5.6" fill="#3a3a3a"  stroke="#3a3a3a" stroke-width="0.18">600</text>
<line x1="411.7" y1="325.1" x2="411.7" y2="327.1" stroke="#2a2a2a" stroke-width="0.7"/>
<text x="411.7" y="333.6" text-anchor="middle" font-family="Liberation Serif, serif"  font-size="5.6" fill="#3a3a3a"  stroke="#3a3a3a" stroke-width="0.18">800</text>
<line x1="427.5" y1="325.1" x2="427.5" y2="327.1" stroke="#2a2a2a" stroke-width="0.7"/>
<text x="427.5" y="333.6" text-anchor="middle" font-family="Liberation Serif, serif"  font-size="5.6" fill="#3a3a3a"  stroke="#3a3a3a" stroke-width="0.18">1000</text>
<path d="M348.5,325.1 L352.5,324.3 L354.6,319.5 L357.2,302.4 L358.9,286.9 L360.3,280.4 L362.3,295.5 L364.9,312.7 L368.4,321.3 L372.6,323.8 L380.0,324.6 L427.5,325.0" fill="none" stroke="#d0d0d0" stroke-width="1.6" stroke-linejoin="round" stroke-linecap="round"/>
<path d="M348.5,325.1 L353.7,319.5 L358.9,316.1 L363.2,314.0 L370.1,317.0 L377.8,319.5 L388.1,322.1 L400.0,323.5 L410.0,324.0 L427.5,324.7" fill="none" stroke="#808080" stroke-width="1.6" stroke-linejoin="round" stroke-linecap="round"/>
<path d="M348.5,325.1 L355.5,323.8 L358.9,317.8 L361.5,311.8 L364.1,309.2 L366.6,308.7 L370.1,310.6 L374.4,314.4 L379.5,318.7 L384.7,321.3 L391.5,323.0 L402.0,323.9 L427.5,324.8" fill="none" stroke="#000" stroke-width="2.0" stroke-linejoin="round" stroke-linecap="round"/>
<text x="387.9" y="341.9" text-anchor="middle" font-family="Liberation Serif, serif" font-weight="bold" font-size="6.6" fill="#000" textLength="10.199999999999989" lengthAdjust="spacingAndGlyphs" stroke="#000" stroke-width="0.12">kPa</text>
<text transform="translate(336.2,299.4) rotate(-90)" text-anchor="middle" font-family="Liberation Serif, serif"  font-size="6" fill="#333"  >%</text>
<text x="501.25" y="269.9" text-anchor="middle" font-family="Liberation Serif, serif" font-weight="bold" font-size="6.8" fill="#000" textLength="57.900000000000034" lengthAdjust="spacingAndGlyphs" stroke="#000" stroke-width="0.25">Height Distribution</text>
<line x1="461.2" y1="273.2" x2="461.2" y2="325.8" stroke="#2a2a2a" stroke-width="0.9"/>
<line x1="461.2" y1="325.8" x2="541.7" y2="325.8" stroke="#2a2a2a" stroke-width="0.9"/>
<line x1="459.0" y1="273.2" x2="461.2" y2="273.2" stroke="#2a2a2a" stroke-width="0.7"/>
<text x="458.7" y="275.09999999999997" text-anchor="end" font-family="Liberation Serif, serif"  font-size="5.6" fill="#3a3a3a"  stroke="#3a3a3a" stroke-width="0.18">80</text>
<line x1="459.0" y1="286.4" x2="461.2" y2="286.4" stroke="#2a2a2a" stroke-width="0.7"/>
<text x="458.7" y="288.29999999999995" text-anchor="end" font-family="Liberation Serif, serif"  font-size="5.6" fill="#3a3a3a"  stroke="#3a3a3a" stroke-width="0.18">60</text>
<line x1="459.0" y1="299.5" x2="461.2" y2="299.5" stroke="#2a2a2a" stroke-width="0.7"/>
<text x="458.7" y="301.4" text-anchor="end" font-family="Liberation Serif, serif"  font-size="5.6" fill="#3a3a3a"  stroke="#3a3a3a" stroke-width="0.18">40</text>
<line x1="459.0" y1="312.7" x2="461.2" y2="312.7" stroke="#2a2a2a" stroke-width="0.7"/>
<text x="458.7" y="314.59999999999997" text-anchor="end" font-family="Liberation Serif, serif"  font-size="5.6" fill="#3a3a3a"  stroke="#3a3a3a" stroke-width="0.18">20</text>
<line x1="459.0" y1="325.8" x2="461.2" y2="325.8" stroke="#2a2a2a" stroke-width="0.7"/>
<text x="458.7" y="327.7" text-anchor="end" font-family="Liberation Serif, serif"  font-size="5.6" fill="#3a3a3a"  stroke="#3a3a3a" stroke-width="0.18">0</text>
<line x1="461.2" y1="325.8" x2="461.2" y2="327.8" stroke="#2a2a2a" stroke-width="0.7"/>
<text x="461.2" y="334.3" text-anchor="middle" font-family="Liberation Serif, serif"  font-size="5.6" fill="#3a3a3a"  stroke="#3a3a3a" stroke-width="0.18">0</text>
<line x1="477.3" y1="325.8" x2="477.3" y2="327.8" stroke="#2a2a2a" stroke-width="0.7"/>
<text x="477.3" y="334.3" text-anchor="middle" font-family="Liberation Serif, serif"  font-size="5.6" fill="#3a3a3a"  stroke="#3a3a3a" stroke-width="0.18">20</text>
<line x1="493.4" y1="325.8" x2="493.4" y2="327.8" stroke="#2a2a2a" stroke-width="0.7"/>
<text x="493.4" y="334.3" text-anchor="middle" font-family="Liberation Serif, serif"  font-size="5.6" fill="#3a3a3a"  stroke="#3a3a3a" stroke-width="0.18">40</text>
<line x1="509.5" y1="325.8" x2="509.5" y2="327.8" stroke="#2a2a2a" stroke-width="0.7"/>
<text x="509.5" y="334.3" text-anchor="middle" font-family="Liberation Serif, serif"  font-size="5.6" fill="#3a3a3a"  stroke="#3a3a3a" stroke-width="0.18">60</text>
<line x1="525.6" y1="325.8" x2="525.6" y2="327.8" stroke="#2a2a2a" stroke-width="0.7"/>
<text x="525.6" y="334.3" text-anchor="middle" font-family="Liberation Serif, serif"  font-size="5.6" fill="#3a3a3a"  stroke="#3a3a3a" stroke-width="0.18">80</text>
<line x1="541.7" y1="325.8" x2="541.7" y2="327.8" stroke="#2a2a2a" stroke-width="0.7"/>
<text x="541.7" y="334.3" text-anchor="middle" font-family="Liberation Serif, serif"  font-size="5.6" fill="#3a3a3a"  stroke="#3a3a3a" stroke-width="0.18">100</text>
<path d="M461.2,325.8 L488.5,325.6 L489.9,321.5 L491.6,304.4 L493.4,279.5 L495.1,300.9 L496.8,321.5 L499.4,325.5 L541.7,325.8" fill="none" stroke="#d0d0d0" stroke-width="1.6" stroke-linejoin="round" stroke-linecap="round"/>
<path d="M461.2,325.8 L483.0,325.3 L486.5,319.8 L489.9,311.2 L493.4,303.5 L496.8,307.8 L500.2,316.4 L503.7,322.4 L507.1,325.5 L541.7,325.8" fill="none" stroke="#808080" stroke-width="1.6" stroke-linejoin="round" stroke-linecap="round"/>
<path d="M461.2,325.8 L478.7,325.8 L481.3,325.0 L483.9,319.0 L486.5,313.0 L489.9,307.8 L493.4,309.9 L496.8,313.8 L501.1,319.8 L505.4,324.1 L509.7,325.8 L541.7,325.8" fill="none" stroke="#000" stroke-width="2.0" stroke-linejoin="round" stroke-linecap="round"/>
<text x="501.3" y="343.8" text-anchor="middle" font-family="Liberation Serif, serif" font-weight="bold" font-size="5.8" fill="#000" textLength="59.80000000000007" lengthAdjust="spacingAndGlyphs" stroke="#000" stroke-width="0.12">% of maximum height</text>
<text transform="translate(447.3,299.4) rotate(-90)" text-anchor="middle" font-family="Liberation Serif, serif"  font-size="6" fill="#333"  >%</text>
<rect x="255.1" y="279.0" width="12.1" height="6.7" fill="#d4d4d4"/>
<text x="271.8" y="285.2" text-anchor="start" font-family="Liberation Sans, sans-serif"  font-size="7.6" fill="#000"  >1 month</text>
<rect x="255.1" y="295.45" width="12.1" height="6.7" fill="#808080"/>
<text x="271.8" y="301.65" text-anchor="start" font-family="Liberation Sans, sans-serif"  font-size="7.6" fill="#000"  >2 months</text>
<rect x="255.1" y="311.9" width="12.1" height="6.7" fill="#000"/>
<text x="271.8" y="318.09999999999997" text-anchor="start" font-family="Liberation Sans, sans-serif"  font-size="7.6" fill="#000"  >20 months</text>
</svg>
</body></html>
